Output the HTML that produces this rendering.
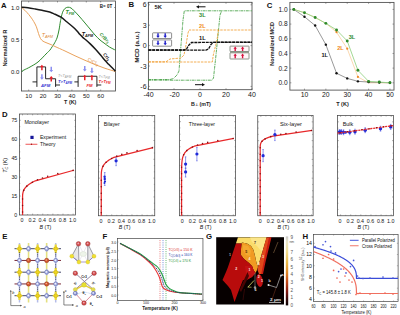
<!DOCTYPE html>
<html><head><meta charset="utf-8"><style>
html,body{margin:0;padding:0;background:#fff;}
svg{display:block;font-family:"Liberation Sans",sans-serif;}
</style></head><body>
<svg width="400" height="315" viewBox="0 0 400 315">
<rect width="400" height="315" fill="#fff"/>
<rect x="21.5" y="1" width="94" height="90" stroke="#4a4a4a" stroke-width="0.85" fill="none" />
<line x1="28.7" y1="91" x2="28.7" y2="89.5" stroke="#4a4a4a" stroke-width="0.5" />
<line x1="28.7" y1="1" x2="28.7" y2="2.5" stroke="#4a4a4a" stroke-width="0.5" />
<text x="28.7" y="98" font-size="6.0" text-anchor="middle" fill="#161616" >10</text>
<line x1="43.1" y1="91" x2="43.1" y2="89.5" stroke="#4a4a4a" stroke-width="0.5" />
<line x1="43.1" y1="1" x2="43.1" y2="2.5" stroke="#4a4a4a" stroke-width="0.5" />
<text x="43.1" y="98" font-size="6.0" text-anchor="middle" fill="#161616" >20</text>
<line x1="57.5" y1="91" x2="57.5" y2="89.5" stroke="#4a4a4a" stroke-width="0.5" />
<line x1="57.5" y1="1" x2="57.5" y2="2.5" stroke="#4a4a4a" stroke-width="0.5" />
<text x="57.5" y="98" font-size="6.0" text-anchor="middle" fill="#161616" >30</text>
<line x1="71.9" y1="91" x2="71.9" y2="89.5" stroke="#4a4a4a" stroke-width="0.5" />
<line x1="71.9" y1="1" x2="71.9" y2="2.5" stroke="#4a4a4a" stroke-width="0.5" />
<text x="71.9" y="98" font-size="6.0" text-anchor="middle" fill="#161616" >40</text>
<line x1="86.3" y1="91" x2="86.3" y2="89.5" stroke="#4a4a4a" stroke-width="0.5" />
<line x1="86.3" y1="1" x2="86.3" y2="2.5" stroke="#4a4a4a" stroke-width="0.5" />
<text x="86.3" y="98" font-size="6.0" text-anchor="middle" fill="#161616" >50</text>
<line x1="100.7" y1="91" x2="100.7" y2="89.5" stroke="#4a4a4a" stroke-width="0.5" />
<line x1="100.7" y1="1" x2="100.7" y2="2.5" stroke="#4a4a4a" stroke-width="0.5" />
<text x="100.7" y="98" font-size="6.0" text-anchor="middle" fill="#161616" >60</text>
<line x1="21.5" y1="7.5" x2="23" y2="7.5" stroke="#4a4a4a" stroke-width="0.5" />
<line x1="115.5" y1="7.5" x2="114" y2="7.5" stroke="#4a4a4a" stroke-width="0.5" />
<text x="19.3" y="9.6" font-size="6.0" text-anchor="end" fill="#161616" >1.0</text>
<line x1="21.5" y1="39.5" x2="23" y2="39.5" stroke="#4a4a4a" stroke-width="0.5" />
<line x1="115.5" y1="39.5" x2="114" y2="39.5" stroke="#4a4a4a" stroke-width="0.5" />
<text x="19.3" y="41.6" font-size="6.0" text-anchor="end" fill="#161616" >0.5</text>
<line x1="21.5" y1="71.5" x2="23" y2="71.5" stroke="#4a4a4a" stroke-width="0.5" />
<line x1="115.5" y1="71.5" x2="114" y2="71.5" stroke="#4a4a4a" stroke-width="0.5" />
<text x="19.3" y="73.6" font-size="6.0" text-anchor="end" fill="#161616" >0.0</text>
<text x="70.25" y="104.1" font-size="5.8" text-anchor="middle" font-weight="bold" fill="#222" textLength="12.3" lengthAdjust="spacingAndGlyphs" >T (K)</text>
<text x="7.4" y="48.1" font-size="5.4" text-anchor="middle" font-weight="bold" fill="#222" textLength="37" lengthAdjust="spacingAndGlyphs" transform="rotate(-90 7.4 48.1)">Normalized R</text>
<text x="1.1" y="8" font-size="7.8" font-weight="bold" fill="#111" >A</text>
<path d="M21.5,71.5 C21.92,71.25 22.58,70.75 24,70 C25.42,69.25 27.67,68.33 30,67 C32.33,65.67 35.33,64.17 38,62 C40.67,59.83 44,56 46,54 C48,52 49,51.17 50,50 C51,48.83 51.33,48 52,47 C52.67,46 53.17,45.5 54,44 C54.83,42.5 56.17,40.33 57,38 C57.83,35.67 58.45,32.67 59,30 C59.55,27.33 59.93,24.08 60.3,22 C60.67,19.92 60.82,19.13 61.2,17.5 C61.58,15.87 62,13.68 62.6,12.2 C63.2,10.72 63.92,9.43 64.8,8.6 C65.68,7.77 66.87,7.3 67.9,7.2 C68.93,7.1 69.98,7.42 71,8 C72.02,8.58 72.67,9.37 74,10.7 C75.33,12.03 77.17,13.95 79,16 C80.83,18.05 83.17,20.83 85,23 C86.83,25.17 88.33,27 90,29 C91.67,31 93.33,33.17 95,35 C96.67,36.83 98.5,38.67 100,40 C101.5,41.33 102.42,41.83 104,43 C105.58,44.17 107.57,45.8 109.5,47 C111.43,48.2 114.58,49.67 115.6,50.2" stroke="#2e8a2e" stroke-width="1.0" fill="none" />
<path d="M21.5,7.3 C21.75,7.52 22.1,7.75 23,8.6 C23.9,9.45 25.62,11 26.9,12.4 C28.18,13.8 29.57,15.48 30.7,17 C31.83,18.52 32.75,19.87 33.7,21.5 C34.65,23.13 35.6,24.8 36.4,26.8 C37.2,28.8 37.82,31.55 38.5,33.5 C39.18,35.45 39.75,37.22 40.5,38.5 C41.25,39.78 41.92,40.45 43,41.2 C44.08,41.95 45.67,42.43 47,43 C48.33,43.57 49.67,44.02 51,44.6 C52.33,45.18 52.67,45.43 55,46.5 C57.33,47.57 61.67,49.45 65,51 C68.33,52.55 71.67,54.25 75,55.8 C78.33,57.35 81.67,58.83 85,60.3 C88.33,61.77 91.67,63.27 95,64.6 C98.33,65.93 101.58,67.15 105,68.3 C108.42,69.45 113.75,70.97 115.5,71.5" stroke="#eaa25c" stroke-width="1.0" fill="none" />
<path d="M21.5,7.2 C22.58,7.3 25.72,7.5 28,7.8 C30.28,8.1 32.87,8.58 35.2,9 C37.53,9.42 39.58,9.8 42,10.3 C44.42,10.8 47.53,11.33 49.7,12 C51.87,12.67 53.12,13.43 55,14.3 C56.88,15.17 59,15.92 61,17.2 C63,18.48 65,20.37 67,22 C69,23.63 71.33,25.5 73,27 C74.67,28.5 75.83,29.73 77,31 C78.17,32.27 79,33.5 80,34.6 C81,35.7 82,36.7 83,37.6 C84,38.5 84.79,38.95 86,40 C87.21,41.05 88.67,42.35 90.25,43.9 C91.83,45.45 93.75,47.4 95.5,49.3 C97.25,51.2 99.15,53.42 100.75,55.3 C102.35,57.18 103.79,59.1 105.1,60.6 C106.41,62.1 106.87,62.53 108.6,64.3 C110.33,66.07 114.35,70.05 115.5,71.2" stroke="#1a1a1a" stroke-width="1.5" fill="none" />
<text x="65.5" y="14.1" font-size="5.4" font-weight="bold" font-style="italic" fill="#2f8f2f" >T<tspan font-size="3.8" dy="1">FM</tspan></text>
<text x="81.7" y="36.4" font-size="5.4" font-weight="bold" font-style="italic" fill="#111" >T<tspan font-size="3.8" dy="1">AFM</tspan></text>
<text x="41.7" y="36.6" font-size="5.4" font-style="italic" fill="#e08838" >T<tspan font-size="3.8" dy="1">AFM</tspan></text>
<text x="99.2" y="34.6" font-size="4.7" font-weight="bold" fill="#2f8f2f" transform="rotate(46 99.2 34.6)">CrBr<tspan font-size="3.4" dy="0.9">3</tspan></text>
<text x="102.8" y="54.4" font-size="4.7" font-weight="bold" fill="#111" transform="rotate(52 102.8 54.4)">CrI<tspan font-size="3.4" dy="0.9">3</tspan></text>
<text x="87.2" y="60.6" font-size="4.7" fill="#e08838" transform="rotate(27 87.2 60.6)">CrCl<tspan font-size="3.4" dy="0.9">3</tspan></text>
<text x="99.8" y="8" font-size="5.4" font-weight="bold" fill="#161616" textLength="12.4" lengthAdjust="spacingAndGlyphs" >B= 0T</text>
<path d="M32.5,81.9 L36.9,81.9" stroke="#111" stroke-width="0.9" fill="none" />
<path d="M36.9,86.9 L36.9,66.9 L45.6,66.9 L45.6,78.75 L55.6,78.75 L55.6,86.9" stroke="#111" stroke-width="0.9" fill="none" />
<path d="M55.6,85 L60,85" stroke="#111" stroke-width="0.9" fill="none" />
<path d="M41.9,64.75 l-1.9,2.2 h1.15 v3.3 h1.5 v-3.3 h1.15 z" fill="#e8202a"/>
<path d="M51.25,76 l-1.9,2.2 h1.15 v3.3 h1.5 v-3.3 h1.15 z" fill="#e8202a"/>
<path d="M41.9,79.65 l-1.9,-2.2 h1.15 v-3.3 h1.5 v3.3 h1.15 z" fill="#8a8ef0"/>
<path d="M51.25,72.15 l-1.9,-2.2 h1.15 v-3.3 h1.5 v3.3 h1.15 z" fill="#8a8ef0"/>
<text x="45.6" y="87.4" font-size="4.2" text-anchor="middle" font-weight="bold" font-style="italic" fill="#3030d0" >AFM</text>
<text x="58" y="77" font-size="3.8" font-style="italic" fill="#999" >T&lt;T<tspan font-size="3" dy="0.7">AFM</tspan></text>
<text x="58" y="83" font-size="4.2" font-weight="bold" font-style="italic" fill="#3030d0" >T&gt;T<tspan font-size="3" dy="0.7">AFM</tspan></text>
<path d="M74.4,81.9 L78.1,81.9" stroke="#111" stroke-width="0.9" fill="none" />
<path d="M78.1,86.9 L78.1,76.25 L96.9,76.25 L96.9,86.9" stroke="#111" stroke-width="0.9" fill="none" />
<path d="M96.9,85 L101.25,85" stroke="#111" stroke-width="0.9" fill="none" />
<path d="M84.75,74.75 l-1.9,2.2 h1.15 v3.3 h1.5 v-3.3 h1.15 z" fill="#e8202a"/>
<path d="M91.9,74.75 l-1.9,2.2 h1.15 v3.3 h1.5 v-3.3 h1.15 z" fill="#e8202a"/>
<path d="M84.75,71.5 l-1.9,-2.2 h1.15 v-3.3 h1.5 v3.3 h1.15 z" fill="#8a8ef0"/>
<path d="M91.9,73.35 l-1.9,-2.2 h1.15 v-3.3 h1.5 v3.3 h1.15 z" fill="#8a8ef0"/>
<text x="89.4" y="86.6" font-size="4.2" text-anchor="middle" font-weight="bold" font-style="italic" fill="#e8202a" >FM</text>
<text x="98.5" y="77.8" font-size="3.8" font-style="italic" fill="#999" >T&lt;T<tspan font-size="3" dy="0.7">FM</tspan></text>
<text x="98.5" y="83.4" font-size="4.2" font-weight="bold" font-style="italic" fill="#e8202a" >T&gt;T<tspan font-size="3" dy="0.7">FM</tspan></text>
<rect x="148.4" y="2.3" width="103.6" height="87.4" stroke="#4a4a4a" stroke-width="0.85" fill="none" />
<line x1="148" y1="89.7" x2="148" y2="88.2" stroke="#4a4a4a" stroke-width="0.5" />
<line x1="148" y1="2.3" x2="148" y2="3.8" stroke="#4a4a4a" stroke-width="0.5" />
<text x="148.5" y="97.3" font-size="7.0" text-anchor="middle" fill="#161616" >-40</text>
<line x1="174" y1="89.7" x2="174" y2="88.2" stroke="#4a4a4a" stroke-width="0.5" />
<line x1="174" y1="2.3" x2="174" y2="3.8" stroke="#4a4a4a" stroke-width="0.5" />
<text x="174.5" y="97.3" font-size="7.0" text-anchor="middle" fill="#161616" >-20</text>
<line x1="200" y1="89.7" x2="200" y2="88.2" stroke="#4a4a4a" stroke-width="0.5" />
<line x1="200" y1="2.3" x2="200" y2="3.8" stroke="#4a4a4a" stroke-width="0.5" />
<text x="200" y="97.3" font-size="7.0" text-anchor="middle" fill="#161616" >0</text>
<line x1="226" y1="89.7" x2="226" y2="88.2" stroke="#4a4a4a" stroke-width="0.5" />
<line x1="226" y1="2.3" x2="226" y2="3.8" stroke="#4a4a4a" stroke-width="0.5" />
<text x="226" y="97.3" font-size="7.0" text-anchor="middle" fill="#161616" >20</text>
<line x1="252" y1="89.7" x2="252" y2="88.2" stroke="#4a4a4a" stroke-width="0.5" />
<line x1="252" y1="2.3" x2="252" y2="3.8" stroke="#4a4a4a" stroke-width="0.5" />
<text x="252" y="97.3" font-size="7.0" text-anchor="middle" fill="#161616" >40</text>
<line x1="148.4" y1="4.8" x2="149.9" y2="4.8" stroke="#4a4a4a" stroke-width="0.5" />
<line x1="252" y1="4.8" x2="250.5" y2="4.8" stroke="#4a4a4a" stroke-width="0.5" />
<text x="146.6" y="7.3" font-size="7.0" text-anchor="end" fill="#161616" >6</text>
<line x1="148.4" y1="25.2" x2="149.9" y2="25.2" stroke="#4a4a4a" stroke-width="0.5" />
<line x1="252" y1="25.2" x2="250.5" y2="25.2" stroke="#4a4a4a" stroke-width="0.5" />
<text x="146.6" y="27.7" font-size="7.0" text-anchor="end" fill="#161616" >3</text>
<line x1="148.4" y1="45.6" x2="149.9" y2="45.6" stroke="#4a4a4a" stroke-width="0.5" />
<line x1="252" y1="45.6" x2="250.5" y2="45.6" stroke="#4a4a4a" stroke-width="0.5" />
<text x="146.6" y="48.1" font-size="7.0" text-anchor="end" fill="#161616" >0</text>
<line x1="148.4" y1="66" x2="149.9" y2="66" stroke="#4a4a4a" stroke-width="0.5" />
<line x1="252" y1="66" x2="250.5" y2="66" stroke="#4a4a4a" stroke-width="0.5" />
<text x="146.6" y="68.5" font-size="7.0" text-anchor="end" fill="#161616" >-3</text>
<line x1="148.4" y1="86.4" x2="149.9" y2="86.4" stroke="#4a4a4a" stroke-width="0.5" />
<line x1="252" y1="86.4" x2="250.5" y2="86.4" stroke="#4a4a4a" stroke-width="0.5" />
<text x="146.6" y="88.9" font-size="7.0" text-anchor="end" fill="#161616" >-6</text>
<text x="201" y="105.5" font-size="5.3" text-anchor="middle" font-weight="bold" fill="#222" >B<tspan font-size="3.5" dy="0.8">&#8869;</tspan><tspan dy="-0.8"> (mT)</tspan></text>
<text x="138.8" y="47.1" font-size="5.6" text-anchor="middle" font-weight="bold" fill="#222" textLength="31.5" lengthAdjust="spacingAndGlyphs" transform="rotate(-90 138.8 47.1)">MCD (a.u.)</text>
<text x="128.6" y="6.9" font-size="7.8" font-weight="bold" fill="#111" >B</text>
<text x="154.5" y="9.4" font-size="5.8" font-weight="bold" fill="#222" >5K</text>
<path d="M148.4,79.5 L170,79.5 L173.5,78.5 L177,75 L179,71 L181,45 L183,20 L184.3,10.8 L252,10.8" stroke="#3a9a3a" stroke-width="0.8" fill="none" stroke-dasharray="3,0.7,1,0.7"/>
<path d="M148.4,80.2 L212,80.2 L213.5,78 L216,55 L218.5,30 L220,15 L221.7,10.8" stroke="#3a9a3a" stroke-width="0.8" fill="none" stroke-dasharray="3,0.7,1,0.7"/>
<path d="M148.4,61.8 L166,61.8 L170,59 L181,58 L184,55 L186,45 L188,33 L189,30 L252,30" stroke="#f09a2a" stroke-width="0.8" fill="none" stroke-dasharray="2.5,1"/>
<path d="M148.4,62 L212.3,62 L213.3,55 L215,48 L217,40 L218.3,31 L219,30" stroke="#f09a2a" stroke-width="0.8" fill="none" stroke-dasharray="2.5,1"/>
<path d="M148.4,50 L184,50 L186.5,49 L189,45 L191.5,42.5 L252,42.3" stroke="#111" stroke-width="1.3" fill="none" stroke-dasharray="3,0.8"/>
<path d="M148.4,50.2 L206,50.2 L208.5,49 L211,44.5 L213.5,42.3 L252,42.1" stroke="#111" stroke-width="1.3" fill="none" stroke-dasharray="3,0.8"/>
<text x="202.3" y="17.2" font-size="5.6" text-anchor="middle" font-weight="bold" fill="#2f8a2f" >3L</text>
<text x="202.3" y="27.7" font-size="5.6" text-anchor="middle" font-weight="bold" fill="#f08a20" >2L</text>
<text x="202.3" y="39.6" font-size="5.6" text-anchor="middle" font-weight="bold" fill="#111" >1L</text>
<path d="M198.5,6.8 L205.5,6.8" stroke="#111" stroke-width="1" fill="none" />
<path d="M196,6.8 l3,-1.6 v3.2 z" fill="#111"/>
<path d="M195,84.7 L202.5,84.7" stroke="#111" stroke-width="1" fill="none" />
<path d="M205,84.7 l-3,-1.6 v3.2 z" fill="#111"/>
<rect x="152.6" y="32.8" width="19" height="5.7" rx="0.6" fill="#fcfcff" stroke="#6a6a6a" stroke-width="0.75"/>
<path d="M158,37.95 l-1.7,-2.2 h1 v-2.4 h1.4 v2.4 h1 z" fill="#1c1cc8"/>
<path d="M165.2,37.95 l-1.7,-2.2 h1 v-2.4 h1.4 v2.4 h1 z" fill="#1c1cc8"/>
<rect x="152.6" y="39.9" width="19" height="6.3" rx="0.6" fill="#fcfcff" stroke="#6a6a6a" stroke-width="0.75"/>
<path d="M158,45.35 l-1.7,-2.2 h1 v-2.4 h1.4 v2.4 h1 z" fill="#1c1cc8"/>
<path d="M165.2,45.35 l-1.7,-2.2 h1 v-2.4 h1.4 v2.4 h1 z" fill="#1c1cc8"/>
<rect x="230" y="51.3" width="19" height="1.6" fill="#a8b8a0"/>
<rect x="230" y="46.1" width="19" height="5.4" rx="0.4" fill="#fff6f8" stroke="#6a7468" stroke-width="0.75"/>
<path d="M235.2,46.5 l-1.7,2.2 h1 v2.4 h1.4 v-2.4 h1 z" fill="#d8103c"/>
<path d="M242.6,46.5 l-1.7,2.2 h1 v2.4 h1.4 v-2.4 h1 z" fill="#d8103c"/>
<rect x="230" y="52.8" width="19" height="6.2" rx="0.4" fill="#fff6f8" stroke="#6a7468" stroke-width="0.75"/>
<path d="M235.2,53.6 l-1.7,2.2 h1 v2.4 h1.4 v-2.4 h1 z" fill="#d8103c"/>
<path d="M242.6,53.6 l-1.7,2.2 h1 v2.4 h1.4 v-2.4 h1 z" fill="#d8103c"/>
<rect x="289.9" y="2.4" width="104.1" height="87.7" stroke="#4a4a4a" stroke-width="0.85" fill="none" />
<line x1="304.48" y1="90.1" x2="304.48" y2="88.6" stroke="#4a4a4a" stroke-width="0.5" />
<line x1="304.48" y1="2.4" x2="304.48" y2="3.9" stroke="#4a4a4a" stroke-width="0.5" />
<text x="304.48" y="97.3" font-size="6.8" text-anchor="middle" fill="#161616" >10</text>
<line x1="325.85" y1="90.1" x2="325.85" y2="88.6" stroke="#4a4a4a" stroke-width="0.5" />
<line x1="325.85" y1="2.4" x2="325.85" y2="3.9" stroke="#4a4a4a" stroke-width="0.5" />
<text x="325.85" y="97.3" font-size="6.8" text-anchor="middle" fill="#161616" >20</text>
<line x1="347.23" y1="90.1" x2="347.23" y2="88.6" stroke="#4a4a4a" stroke-width="0.5" />
<line x1="347.23" y1="2.4" x2="347.23" y2="3.9" stroke="#4a4a4a" stroke-width="0.5" />
<text x="347.23" y="97.3" font-size="6.8" text-anchor="middle" fill="#161616" >30</text>
<line x1="368.6" y1="90.1" x2="368.6" y2="88.6" stroke="#4a4a4a" stroke-width="0.5" />
<line x1="368.6" y1="2.4" x2="368.6" y2="3.9" stroke="#4a4a4a" stroke-width="0.5" />
<text x="368.6" y="97.3" font-size="6.8" text-anchor="middle" fill="#161616" >40</text>
<line x1="389.98" y1="90.1" x2="389.98" y2="88.6" stroke="#4a4a4a" stroke-width="0.5" />
<line x1="389.98" y1="2.4" x2="389.98" y2="3.9" stroke="#4a4a4a" stroke-width="0.5" />
<text x="389.98" y="97.3" font-size="6.8" text-anchor="middle" fill="#161616" >50</text>
<line x1="289.9" y1="82.8" x2="291.4" y2="82.8" stroke="#4a4a4a" stroke-width="0.5" />
<line x1="394" y1="82.8" x2="392.5" y2="82.8" stroke="#4a4a4a" stroke-width="0.5" />
<text x="287.6" y="85.2" font-size="6.6" text-anchor="end" fill="#161616" >0.0</text>
<line x1="289.9" y1="68.12" x2="291.4" y2="68.12" stroke="#4a4a4a" stroke-width="0.5" />
<line x1="394" y1="68.12" x2="392.5" y2="68.12" stroke="#4a4a4a" stroke-width="0.5" />
<text x="287.6" y="70.52" font-size="6.6" text-anchor="end" fill="#161616" >0.2</text>
<line x1="289.9" y1="53.44" x2="291.4" y2="53.44" stroke="#4a4a4a" stroke-width="0.5" />
<line x1="394" y1="53.44" x2="392.5" y2="53.44" stroke="#4a4a4a" stroke-width="0.5" />
<text x="287.6" y="55.84" font-size="6.6" text-anchor="end" fill="#161616" >0.4</text>
<line x1="289.9" y1="38.76" x2="291.4" y2="38.76" stroke="#4a4a4a" stroke-width="0.5" />
<line x1="394" y1="38.76" x2="392.5" y2="38.76" stroke="#4a4a4a" stroke-width="0.5" />
<text x="287.6" y="41.16" font-size="6.6" text-anchor="end" fill="#161616" >0.6</text>
<line x1="289.9" y1="24.08" x2="291.4" y2="24.08" stroke="#4a4a4a" stroke-width="0.5" />
<line x1="394" y1="24.08" x2="392.5" y2="24.08" stroke="#4a4a4a" stroke-width="0.5" />
<text x="287.6" y="26.48" font-size="6.6" text-anchor="end" fill="#161616" >0.8</text>
<line x1="289.9" y1="9.4" x2="291.4" y2="9.4" stroke="#4a4a4a" stroke-width="0.5" />
<line x1="394" y1="9.4" x2="392.5" y2="9.4" stroke="#4a4a4a" stroke-width="0.5" />
<text x="287.6" y="11.8" font-size="6.6" text-anchor="end" fill="#161616" >1.0</text>
<text x="342.5" y="106" font-size="5.6" text-anchor="middle" font-weight="bold" fill="#222" textLength="12.5" lengthAdjust="spacingAndGlyphs" >T (K)</text>
<text x="273.7" y="43.8" font-size="5.4" text-anchor="middle" font-weight="bold" fill="#222" textLength="43.8" lengthAdjust="spacingAndGlyphs" transform="rotate(-90 273.7 43.8)">Normalized MCD</text>
<text x="266.7" y="7.8" font-size="7.8" font-weight="bold" fill="#111" >C</text>
<path d="M293.79,9.4 L304.48,12.7 L315.16,17.47 L325.85,23.35 L336.54,32.15 L347.23,48.67 L357.91,76.93 L368.6,82.8 L379.29,82.8 L389.98,82.8" stroke="#f4b060" stroke-width="0.5" fill="none" />
<path d="M293.79,9.4 L304.48,16.74 L315.16,25.55 L325.85,44.63 L336.54,73.26 L347.23,78.4 L357.91,81.33 L368.6,82.07 L379.29,82.43 L389.98,82.8" stroke="#333" stroke-width="0.5" fill="none" />
<path d="M293.79,9.4 L304.48,12.7 L315.16,17.47 L325.85,23.35 L336.54,29.95 L347.23,40.96 L357.91,70.32 L368.6,81.33 L379.29,82.07 L389.98,82.8" stroke="#98d488" stroke-width="0.9" fill="none" />
<circle cx="336.54" cy="32.15" r="1.1" fill="#f08a28" stroke="none" stroke-width="0.3" />
<circle cx="347.23" cy="48.67" r="1.1" fill="#f08a28" stroke="none" stroke-width="0.3" />
<circle cx="357.91" cy="76.93" r="1.1" fill="#f08a28" stroke="none" stroke-width="0.3" />
<circle cx="293.79" cy="9.4" r="1.2" fill="#111" stroke="none" stroke-width="0.3" />
<circle cx="304.48" cy="16.74" r="1.2" fill="#111" stroke="none" stroke-width="0.3" />
<circle cx="315.16" cy="25.55" r="1.2" fill="#111" stroke="none" stroke-width="0.3" />
<circle cx="325.85" cy="44.63" r="1.2" fill="#111" stroke="none" stroke-width="0.3" />
<circle cx="336.54" cy="73.26" r="1.2" fill="#111" stroke="none" stroke-width="0.3" />
<circle cx="347.23" cy="78.4" r="1.2" fill="#111" stroke="none" stroke-width="0.3" />
<circle cx="357.91" cy="81.33" r="1.2" fill="#111" stroke="none" stroke-width="0.3" />
<circle cx="368.6" cy="82.07" r="1.2" fill="#111" stroke="none" stroke-width="0.3" />
<circle cx="379.29" cy="82.43" r="1.2" fill="#111" stroke="none" stroke-width="0.3" />
<circle cx="389.98" cy="82.8" r="1.2" fill="#111" stroke="none" stroke-width="0.3" />
<circle cx="293.79" cy="9.4" r="1.45" fill="#2f8a2a" stroke="none" stroke-width="0.3" />
<circle cx="304.48" cy="12.7" r="1.45" fill="#2f8a2a" stroke="none" stroke-width="0.3" />
<circle cx="315.16" cy="17.47" r="1.45" fill="#2f8a2a" stroke="none" stroke-width="0.3" />
<circle cx="325.85" cy="23.35" r="1.45" fill="#2f8a2a" stroke="none" stroke-width="0.3" />
<circle cx="336.54" cy="29.95" r="1.45" fill="#2f8a2a" stroke="none" stroke-width="0.3" />
<circle cx="347.23" cy="40.96" r="1.45" fill="#2f8a2a" stroke="none" stroke-width="0.3" />
<circle cx="357.91" cy="70.32" r="1.45" fill="#2f8a2a" stroke="none" stroke-width="0.3" />
<circle cx="368.6" cy="81.33" r="1.45" fill="#2f8a2a" stroke="none" stroke-width="0.3" />
<circle cx="379.29" cy="82.07" r="1.45" fill="#2f8a2a" stroke="none" stroke-width="0.3" />
<circle cx="389.98" cy="82.8" r="1.45" fill="#2f8a2a" stroke="none" stroke-width="0.3" />
<text x="351.9" y="38.5" font-size="5.6" text-anchor="middle" font-weight="bold" fill="#2f8a2f" >3L</text>
<text x="340.5" y="50" font-size="5.6" text-anchor="middle" font-weight="bold" fill="#f08a20" >2L</text>
<text x="324.7" y="56.9" font-size="5.6" text-anchor="middle" font-weight="bold" fill="#111" >1L</text>
<rect x="19.4" y="114" width="56.2" height="101" stroke="#444" stroke-width="0.75" fill="none" />
<line x1="22.5" y1="215" x2="22.5" y2="213.6" stroke="#555" stroke-width="0.45" />
<line x1="22.5" y1="114" x2="22.5" y2="115.4" stroke="#555" stroke-width="0.45" />
<text x="22" y="221.9" font-size="5.3" text-anchor="middle" fill="#161616" >0</text>
<line x1="27.56" y1="215" x2="27.56" y2="214.1" stroke="#555" stroke-width="0.45" />
<line x1="27.56" y1="114" x2="27.56" y2="114.9" stroke="#555" stroke-width="0.45" />
<line x1="32.62" y1="215" x2="32.62" y2="213.6" stroke="#555" stroke-width="0.45" />
<line x1="32.62" y1="114" x2="32.62" y2="115.4" stroke="#555" stroke-width="0.45" />
<text x="32.12" y="221.9" font-size="5.3" text-anchor="middle" fill="#161616" >0.2</text>
<line x1="37.68" y1="215" x2="37.68" y2="214.1" stroke="#555" stroke-width="0.45" />
<line x1="37.68" y1="114" x2="37.68" y2="114.9" stroke="#555" stroke-width="0.45" />
<line x1="42.74" y1="215" x2="42.74" y2="213.6" stroke="#555" stroke-width="0.45" />
<line x1="42.74" y1="114" x2="42.74" y2="115.4" stroke="#555" stroke-width="0.45" />
<text x="42.24" y="221.9" font-size="5.3" text-anchor="middle" fill="#161616" >0.4</text>
<line x1="47.8" y1="215" x2="47.8" y2="214.1" stroke="#555" stroke-width="0.45" />
<line x1="47.8" y1="114" x2="47.8" y2="114.9" stroke="#555" stroke-width="0.45" />
<line x1="52.86" y1="215" x2="52.86" y2="213.6" stroke="#555" stroke-width="0.45" />
<line x1="52.86" y1="114" x2="52.86" y2="115.4" stroke="#555" stroke-width="0.45" />
<text x="52.36" y="221.9" font-size="5.3" text-anchor="middle" fill="#161616" >0.6</text>
<line x1="57.92" y1="215" x2="57.92" y2="214.1" stroke="#555" stroke-width="0.45" />
<line x1="57.92" y1="114" x2="57.92" y2="114.9" stroke="#555" stroke-width="0.45" />
<line x1="62.98" y1="215" x2="62.98" y2="213.6" stroke="#555" stroke-width="0.45" />
<line x1="62.98" y1="114" x2="62.98" y2="115.4" stroke="#555" stroke-width="0.45" />
<text x="62.48" y="221.9" font-size="5.3" text-anchor="middle" fill="#161616" >0.8</text>
<line x1="68.04" y1="215" x2="68.04" y2="214.1" stroke="#555" stroke-width="0.45" />
<line x1="68.04" y1="114" x2="68.04" y2="114.9" stroke="#555" stroke-width="0.45" />
<line x1="73.1" y1="215" x2="73.1" y2="213.6" stroke="#555" stroke-width="0.45" />
<line x1="73.1" y1="114" x2="73.1" y2="115.4" stroke="#555" stroke-width="0.45" />
<text x="72.6" y="221.9" font-size="5.3" text-anchor="middle" fill="#161616" >1.0</text>
<line x1="19.4" y1="208.69" x2="20.3" y2="208.69" stroke="#555" stroke-width="0.45" />
<line x1="75.6" y1="208.69" x2="74.7" y2="208.69" stroke="#555" stroke-width="0.45" />
<line x1="19.4" y1="202.38" x2="20.3" y2="202.38" stroke="#555" stroke-width="0.45" />
<line x1="75.6" y1="202.38" x2="74.7" y2="202.38" stroke="#555" stroke-width="0.45" />
<line x1="19.4" y1="196.06" x2="20.8" y2="196.06" stroke="#555" stroke-width="0.45" />
<line x1="75.6" y1="196.06" x2="74.2" y2="196.06" stroke="#555" stroke-width="0.45" />
<line x1="19.4" y1="189.75" x2="20.3" y2="189.75" stroke="#555" stroke-width="0.45" />
<line x1="75.6" y1="189.75" x2="74.7" y2="189.75" stroke="#555" stroke-width="0.45" />
<line x1="19.4" y1="183.44" x2="20.3" y2="183.44" stroke="#555" stroke-width="0.45" />
<line x1="75.6" y1="183.44" x2="74.7" y2="183.44" stroke="#555" stroke-width="0.45" />
<line x1="19.4" y1="177.12" x2="20.8" y2="177.12" stroke="#555" stroke-width="0.45" />
<line x1="75.6" y1="177.12" x2="74.2" y2="177.12" stroke="#555" stroke-width="0.45" />
<line x1="19.4" y1="170.81" x2="20.3" y2="170.81" stroke="#555" stroke-width="0.45" />
<line x1="75.6" y1="170.81" x2="74.7" y2="170.81" stroke="#555" stroke-width="0.45" />
<line x1="19.4" y1="164.5" x2="20.3" y2="164.5" stroke="#555" stroke-width="0.45" />
<line x1="75.6" y1="164.5" x2="74.7" y2="164.5" stroke="#555" stroke-width="0.45" />
<line x1="19.4" y1="158.19" x2="20.8" y2="158.19" stroke="#555" stroke-width="0.45" />
<line x1="75.6" y1="158.19" x2="74.2" y2="158.19" stroke="#555" stroke-width="0.45" />
<line x1="19.4" y1="151.88" x2="20.3" y2="151.88" stroke="#555" stroke-width="0.45" />
<line x1="75.6" y1="151.88" x2="74.7" y2="151.88" stroke="#555" stroke-width="0.45" />
<line x1="19.4" y1="145.56" x2="20.3" y2="145.56" stroke="#555" stroke-width="0.45" />
<line x1="75.6" y1="145.56" x2="74.7" y2="145.56" stroke="#555" stroke-width="0.45" />
<line x1="19.4" y1="139.25" x2="20.8" y2="139.25" stroke="#555" stroke-width="0.45" />
<line x1="75.6" y1="139.25" x2="74.2" y2="139.25" stroke="#555" stroke-width="0.45" />
<line x1="19.4" y1="132.94" x2="20.3" y2="132.94" stroke="#555" stroke-width="0.45" />
<line x1="75.6" y1="132.94" x2="74.7" y2="132.94" stroke="#555" stroke-width="0.45" />
<line x1="19.4" y1="126.62" x2="20.3" y2="126.62" stroke="#555" stroke-width="0.45" />
<line x1="75.6" y1="126.62" x2="74.7" y2="126.62" stroke="#555" stroke-width="0.45" />
<line x1="19.4" y1="120.31" x2="20.8" y2="120.31" stroke="#555" stroke-width="0.45" />
<line x1="75.6" y1="120.31" x2="74.2" y2="120.31" stroke="#555" stroke-width="0.45" />
<text x="45.5" y="228.6" font-size="5.3" text-anchor="middle" fill="#161616" ><tspan font-style="italic">B</tspan> (T)</text>
<rect x="98.5" y="115.4" width="56.25" height="100.35" stroke="#444" stroke-width="0.75" fill="none" />
<line x1="101.6" y1="215.75" x2="101.6" y2="214.35" stroke="#555" stroke-width="0.45" />
<line x1="101.6" y1="115.4" x2="101.6" y2="116.8" stroke="#555" stroke-width="0.45" />
<text x="101.1" y="222.65" font-size="5.3" text-anchor="middle" fill="#161616" >0</text>
<line x1="106.66" y1="215.75" x2="106.66" y2="214.85" stroke="#555" stroke-width="0.45" />
<line x1="106.66" y1="115.4" x2="106.66" y2="116.3" stroke="#555" stroke-width="0.45" />
<line x1="111.72" y1="215.75" x2="111.72" y2="214.35" stroke="#555" stroke-width="0.45" />
<line x1="111.72" y1="115.4" x2="111.72" y2="116.8" stroke="#555" stroke-width="0.45" />
<text x="111.22" y="222.65" font-size="5.3" text-anchor="middle" fill="#161616" >0.2</text>
<line x1="116.78" y1="215.75" x2="116.78" y2="214.85" stroke="#555" stroke-width="0.45" />
<line x1="116.78" y1="115.4" x2="116.78" y2="116.3" stroke="#555" stroke-width="0.45" />
<line x1="121.84" y1="215.75" x2="121.84" y2="214.35" stroke="#555" stroke-width="0.45" />
<line x1="121.84" y1="115.4" x2="121.84" y2="116.8" stroke="#555" stroke-width="0.45" />
<text x="121.34" y="222.65" font-size="5.3" text-anchor="middle" fill="#161616" >0.4</text>
<line x1="126.9" y1="215.75" x2="126.9" y2="214.85" stroke="#555" stroke-width="0.45" />
<line x1="126.9" y1="115.4" x2="126.9" y2="116.3" stroke="#555" stroke-width="0.45" />
<line x1="131.96" y1="215.75" x2="131.96" y2="214.35" stroke="#555" stroke-width="0.45" />
<line x1="131.96" y1="115.4" x2="131.96" y2="116.8" stroke="#555" stroke-width="0.45" />
<text x="131.46" y="222.65" font-size="5.3" text-anchor="middle" fill="#161616" >0.6</text>
<line x1="137.02" y1="215.75" x2="137.02" y2="214.85" stroke="#555" stroke-width="0.45" />
<line x1="137.02" y1="115.4" x2="137.02" y2="116.3" stroke="#555" stroke-width="0.45" />
<line x1="142.08" y1="215.75" x2="142.08" y2="214.35" stroke="#555" stroke-width="0.45" />
<line x1="142.08" y1="115.4" x2="142.08" y2="116.8" stroke="#555" stroke-width="0.45" />
<text x="141.58" y="222.65" font-size="5.3" text-anchor="middle" fill="#161616" >0.8</text>
<line x1="147.14" y1="215.75" x2="147.14" y2="214.85" stroke="#555" stroke-width="0.45" />
<line x1="147.14" y1="115.4" x2="147.14" y2="116.3" stroke="#555" stroke-width="0.45" />
<line x1="152.2" y1="215.75" x2="152.2" y2="214.35" stroke="#555" stroke-width="0.45" />
<line x1="152.2" y1="115.4" x2="152.2" y2="116.8" stroke="#555" stroke-width="0.45" />
<text x="151.7" y="222.65" font-size="5.3" text-anchor="middle" fill="#161616" >1.0</text>
<line x1="98.5" y1="209.48" x2="99.4" y2="209.48" stroke="#555" stroke-width="0.45" />
<line x1="154.75" y1="209.48" x2="153.85" y2="209.48" stroke="#555" stroke-width="0.45" />
<line x1="98.5" y1="203.21" x2="99.4" y2="203.21" stroke="#555" stroke-width="0.45" />
<line x1="154.75" y1="203.21" x2="153.85" y2="203.21" stroke="#555" stroke-width="0.45" />
<line x1="98.5" y1="196.93" x2="99.9" y2="196.93" stroke="#555" stroke-width="0.45" />
<line x1="154.75" y1="196.93" x2="153.35" y2="196.93" stroke="#555" stroke-width="0.45" />
<line x1="98.5" y1="190.66" x2="99.4" y2="190.66" stroke="#555" stroke-width="0.45" />
<line x1="154.75" y1="190.66" x2="153.85" y2="190.66" stroke="#555" stroke-width="0.45" />
<line x1="98.5" y1="184.39" x2="99.4" y2="184.39" stroke="#555" stroke-width="0.45" />
<line x1="154.75" y1="184.39" x2="153.85" y2="184.39" stroke="#555" stroke-width="0.45" />
<line x1="98.5" y1="178.12" x2="99.9" y2="178.12" stroke="#555" stroke-width="0.45" />
<line x1="154.75" y1="178.12" x2="153.35" y2="178.12" stroke="#555" stroke-width="0.45" />
<line x1="98.5" y1="171.85" x2="99.4" y2="171.85" stroke="#555" stroke-width="0.45" />
<line x1="154.75" y1="171.85" x2="153.85" y2="171.85" stroke="#555" stroke-width="0.45" />
<line x1="98.5" y1="165.57" x2="99.4" y2="165.57" stroke="#555" stroke-width="0.45" />
<line x1="154.75" y1="165.57" x2="153.85" y2="165.57" stroke="#555" stroke-width="0.45" />
<line x1="98.5" y1="159.3" x2="99.9" y2="159.3" stroke="#555" stroke-width="0.45" />
<line x1="154.75" y1="159.3" x2="153.35" y2="159.3" stroke="#555" stroke-width="0.45" />
<line x1="98.5" y1="153.03" x2="99.4" y2="153.03" stroke="#555" stroke-width="0.45" />
<line x1="154.75" y1="153.03" x2="153.85" y2="153.03" stroke="#555" stroke-width="0.45" />
<line x1="98.5" y1="146.76" x2="99.4" y2="146.76" stroke="#555" stroke-width="0.45" />
<line x1="154.75" y1="146.76" x2="153.85" y2="146.76" stroke="#555" stroke-width="0.45" />
<line x1="98.5" y1="140.49" x2="99.9" y2="140.49" stroke="#555" stroke-width="0.45" />
<line x1="154.75" y1="140.49" x2="153.35" y2="140.49" stroke="#555" stroke-width="0.45" />
<line x1="98.5" y1="134.22" x2="99.4" y2="134.22" stroke="#555" stroke-width="0.45" />
<line x1="154.75" y1="134.22" x2="153.85" y2="134.22" stroke="#555" stroke-width="0.45" />
<line x1="98.5" y1="127.94" x2="99.4" y2="127.94" stroke="#555" stroke-width="0.45" />
<line x1="154.75" y1="127.94" x2="153.85" y2="127.94" stroke="#555" stroke-width="0.45" />
<line x1="98.5" y1="121.67" x2="99.9" y2="121.67" stroke="#555" stroke-width="0.45" />
<line x1="154.75" y1="121.67" x2="153.35" y2="121.67" stroke="#555" stroke-width="0.45" />
<text x="124.62" y="229.35" font-size="5.3" text-anchor="middle" fill="#161616" ><tspan font-style="italic">B</tspan> (T)</text>
<rect x="179.6" y="115.4" width="56" height="100.35" stroke="#444" stroke-width="0.75" fill="none" />
<line x1="182.7" y1="215.75" x2="182.7" y2="214.35" stroke="#555" stroke-width="0.45" />
<line x1="182.7" y1="115.4" x2="182.7" y2="116.8" stroke="#555" stroke-width="0.45" />
<text x="182.2" y="222.65" font-size="5.3" text-anchor="middle" fill="#161616" >0</text>
<line x1="187.76" y1="215.75" x2="187.76" y2="214.85" stroke="#555" stroke-width="0.45" />
<line x1="187.76" y1="115.4" x2="187.76" y2="116.3" stroke="#555" stroke-width="0.45" />
<line x1="192.82" y1="215.75" x2="192.82" y2="214.35" stroke="#555" stroke-width="0.45" />
<line x1="192.82" y1="115.4" x2="192.82" y2="116.8" stroke="#555" stroke-width="0.45" />
<text x="192.32" y="222.65" font-size="5.3" text-anchor="middle" fill="#161616" >0.2</text>
<line x1="197.88" y1="215.75" x2="197.88" y2="214.85" stroke="#555" stroke-width="0.45" />
<line x1="197.88" y1="115.4" x2="197.88" y2="116.3" stroke="#555" stroke-width="0.45" />
<line x1="202.94" y1="215.75" x2="202.94" y2="214.35" stroke="#555" stroke-width="0.45" />
<line x1="202.94" y1="115.4" x2="202.94" y2="116.8" stroke="#555" stroke-width="0.45" />
<text x="202.44" y="222.65" font-size="5.3" text-anchor="middle" fill="#161616" >0.4</text>
<line x1="208" y1="215.75" x2="208" y2="214.85" stroke="#555" stroke-width="0.45" />
<line x1="208" y1="115.4" x2="208" y2="116.3" stroke="#555" stroke-width="0.45" />
<line x1="213.06" y1="215.75" x2="213.06" y2="214.35" stroke="#555" stroke-width="0.45" />
<line x1="213.06" y1="115.4" x2="213.06" y2="116.8" stroke="#555" stroke-width="0.45" />
<text x="212.56" y="222.65" font-size="5.3" text-anchor="middle" fill="#161616" >0.6</text>
<line x1="218.12" y1="215.75" x2="218.12" y2="214.85" stroke="#555" stroke-width="0.45" />
<line x1="218.12" y1="115.4" x2="218.12" y2="116.3" stroke="#555" stroke-width="0.45" />
<line x1="223.18" y1="215.75" x2="223.18" y2="214.35" stroke="#555" stroke-width="0.45" />
<line x1="223.18" y1="115.4" x2="223.18" y2="116.8" stroke="#555" stroke-width="0.45" />
<text x="222.68" y="222.65" font-size="5.3" text-anchor="middle" fill="#161616" >0.8</text>
<line x1="228.24" y1="215.75" x2="228.24" y2="214.85" stroke="#555" stroke-width="0.45" />
<line x1="228.24" y1="115.4" x2="228.24" y2="116.3" stroke="#555" stroke-width="0.45" />
<line x1="233.3" y1="215.75" x2="233.3" y2="214.35" stroke="#555" stroke-width="0.45" />
<line x1="233.3" y1="115.4" x2="233.3" y2="116.8" stroke="#555" stroke-width="0.45" />
<text x="232.8" y="222.65" font-size="5.3" text-anchor="middle" fill="#161616" >1.0</text>
<line x1="179.6" y1="209.48" x2="180.5" y2="209.48" stroke="#555" stroke-width="0.45" />
<line x1="235.6" y1="209.48" x2="234.7" y2="209.48" stroke="#555" stroke-width="0.45" />
<line x1="179.6" y1="203.21" x2="180.5" y2="203.21" stroke="#555" stroke-width="0.45" />
<line x1="235.6" y1="203.21" x2="234.7" y2="203.21" stroke="#555" stroke-width="0.45" />
<line x1="179.6" y1="196.93" x2="181" y2="196.93" stroke="#555" stroke-width="0.45" />
<line x1="235.6" y1="196.93" x2="234.2" y2="196.93" stroke="#555" stroke-width="0.45" />
<line x1="179.6" y1="190.66" x2="180.5" y2="190.66" stroke="#555" stroke-width="0.45" />
<line x1="235.6" y1="190.66" x2="234.7" y2="190.66" stroke="#555" stroke-width="0.45" />
<line x1="179.6" y1="184.39" x2="180.5" y2="184.39" stroke="#555" stroke-width="0.45" />
<line x1="235.6" y1="184.39" x2="234.7" y2="184.39" stroke="#555" stroke-width="0.45" />
<line x1="179.6" y1="178.12" x2="181" y2="178.12" stroke="#555" stroke-width="0.45" />
<line x1="235.6" y1="178.12" x2="234.2" y2="178.12" stroke="#555" stroke-width="0.45" />
<line x1="179.6" y1="171.85" x2="180.5" y2="171.85" stroke="#555" stroke-width="0.45" />
<line x1="235.6" y1="171.85" x2="234.7" y2="171.85" stroke="#555" stroke-width="0.45" />
<line x1="179.6" y1="165.57" x2="180.5" y2="165.57" stroke="#555" stroke-width="0.45" />
<line x1="235.6" y1="165.57" x2="234.7" y2="165.57" stroke="#555" stroke-width="0.45" />
<line x1="179.6" y1="159.3" x2="181" y2="159.3" stroke="#555" stroke-width="0.45" />
<line x1="235.6" y1="159.3" x2="234.2" y2="159.3" stroke="#555" stroke-width="0.45" />
<line x1="179.6" y1="153.03" x2="180.5" y2="153.03" stroke="#555" stroke-width="0.45" />
<line x1="235.6" y1="153.03" x2="234.7" y2="153.03" stroke="#555" stroke-width="0.45" />
<line x1="179.6" y1="146.76" x2="180.5" y2="146.76" stroke="#555" stroke-width="0.45" />
<line x1="235.6" y1="146.76" x2="234.7" y2="146.76" stroke="#555" stroke-width="0.45" />
<line x1="179.6" y1="140.49" x2="181" y2="140.49" stroke="#555" stroke-width="0.45" />
<line x1="235.6" y1="140.49" x2="234.2" y2="140.49" stroke="#555" stroke-width="0.45" />
<line x1="179.6" y1="134.22" x2="180.5" y2="134.22" stroke="#555" stroke-width="0.45" />
<line x1="235.6" y1="134.22" x2="234.7" y2="134.22" stroke="#555" stroke-width="0.45" />
<line x1="179.6" y1="127.94" x2="180.5" y2="127.94" stroke="#555" stroke-width="0.45" />
<line x1="235.6" y1="127.94" x2="234.7" y2="127.94" stroke="#555" stroke-width="0.45" />
<line x1="179.6" y1="121.67" x2="181" y2="121.67" stroke="#555" stroke-width="0.45" />
<line x1="235.6" y1="121.67" x2="234.2" y2="121.67" stroke="#555" stroke-width="0.45" />
<text x="205.6" y="229.35" font-size="5.3" text-anchor="middle" fill="#161616" ><tspan font-style="italic">B</tspan> (T)</text>
<rect x="257.75" y="115.6" width="55.35" height="100.15" stroke="#444" stroke-width="0.75" fill="none" />
<line x1="260.85" y1="215.75" x2="260.85" y2="214.35" stroke="#555" stroke-width="0.45" />
<line x1="260.85" y1="115.6" x2="260.85" y2="117" stroke="#555" stroke-width="0.45" />
<text x="260.35" y="222.65" font-size="5.3" text-anchor="middle" fill="#161616" >0</text>
<line x1="265.91" y1="215.75" x2="265.91" y2="214.85" stroke="#555" stroke-width="0.45" />
<line x1="265.91" y1="115.6" x2="265.91" y2="116.5" stroke="#555" stroke-width="0.45" />
<line x1="270.97" y1="215.75" x2="270.97" y2="214.35" stroke="#555" stroke-width="0.45" />
<line x1="270.97" y1="115.6" x2="270.97" y2="117" stroke="#555" stroke-width="0.45" />
<text x="270.47" y="222.65" font-size="5.3" text-anchor="middle" fill="#161616" >0.2</text>
<line x1="276.03" y1="215.75" x2="276.03" y2="214.85" stroke="#555" stroke-width="0.45" />
<line x1="276.03" y1="115.6" x2="276.03" y2="116.5" stroke="#555" stroke-width="0.45" />
<line x1="281.09" y1="215.75" x2="281.09" y2="214.35" stroke="#555" stroke-width="0.45" />
<line x1="281.09" y1="115.6" x2="281.09" y2="117" stroke="#555" stroke-width="0.45" />
<text x="280.59" y="222.65" font-size="5.3" text-anchor="middle" fill="#161616" >0.4</text>
<line x1="286.15" y1="215.75" x2="286.15" y2="214.85" stroke="#555" stroke-width="0.45" />
<line x1="286.15" y1="115.6" x2="286.15" y2="116.5" stroke="#555" stroke-width="0.45" />
<line x1="291.21" y1="215.75" x2="291.21" y2="214.35" stroke="#555" stroke-width="0.45" />
<line x1="291.21" y1="115.6" x2="291.21" y2="117" stroke="#555" stroke-width="0.45" />
<text x="290.71" y="222.65" font-size="5.3" text-anchor="middle" fill="#161616" >0.6</text>
<line x1="296.27" y1="215.75" x2="296.27" y2="214.85" stroke="#555" stroke-width="0.45" />
<line x1="296.27" y1="115.6" x2="296.27" y2="116.5" stroke="#555" stroke-width="0.45" />
<line x1="301.33" y1="215.75" x2="301.33" y2="214.35" stroke="#555" stroke-width="0.45" />
<line x1="301.33" y1="115.6" x2="301.33" y2="117" stroke="#555" stroke-width="0.45" />
<text x="300.83" y="222.65" font-size="5.3" text-anchor="middle" fill="#161616" >0.8</text>
<line x1="306.39" y1="215.75" x2="306.39" y2="214.85" stroke="#555" stroke-width="0.45" />
<line x1="306.39" y1="115.6" x2="306.39" y2="116.5" stroke="#555" stroke-width="0.45" />
<line x1="311.45" y1="215.75" x2="311.45" y2="214.35" stroke="#555" stroke-width="0.45" />
<line x1="311.45" y1="115.6" x2="311.45" y2="117" stroke="#555" stroke-width="0.45" />
<text x="310.95" y="222.65" font-size="5.3" text-anchor="middle" fill="#161616" >1.0</text>
<line x1="257.75" y1="209.49" x2="258.65" y2="209.49" stroke="#555" stroke-width="0.45" />
<line x1="313.1" y1="209.49" x2="312.2" y2="209.49" stroke="#555" stroke-width="0.45" />
<line x1="257.75" y1="203.23" x2="258.65" y2="203.23" stroke="#555" stroke-width="0.45" />
<line x1="313.1" y1="203.23" x2="312.2" y2="203.23" stroke="#555" stroke-width="0.45" />
<line x1="257.75" y1="196.97" x2="259.15" y2="196.97" stroke="#555" stroke-width="0.45" />
<line x1="313.1" y1="196.97" x2="311.7" y2="196.97" stroke="#555" stroke-width="0.45" />
<line x1="257.75" y1="190.71" x2="258.65" y2="190.71" stroke="#555" stroke-width="0.45" />
<line x1="313.1" y1="190.71" x2="312.2" y2="190.71" stroke="#555" stroke-width="0.45" />
<line x1="257.75" y1="184.45" x2="258.65" y2="184.45" stroke="#555" stroke-width="0.45" />
<line x1="313.1" y1="184.45" x2="312.2" y2="184.45" stroke="#555" stroke-width="0.45" />
<line x1="257.75" y1="178.19" x2="259.15" y2="178.19" stroke="#555" stroke-width="0.45" />
<line x1="313.1" y1="178.19" x2="311.7" y2="178.19" stroke="#555" stroke-width="0.45" />
<line x1="257.75" y1="171.93" x2="258.65" y2="171.93" stroke="#555" stroke-width="0.45" />
<line x1="313.1" y1="171.93" x2="312.2" y2="171.93" stroke="#555" stroke-width="0.45" />
<line x1="257.75" y1="165.68" x2="258.65" y2="165.68" stroke="#555" stroke-width="0.45" />
<line x1="313.1" y1="165.68" x2="312.2" y2="165.68" stroke="#555" stroke-width="0.45" />
<line x1="257.75" y1="159.42" x2="259.15" y2="159.42" stroke="#555" stroke-width="0.45" />
<line x1="313.1" y1="159.42" x2="311.7" y2="159.42" stroke="#555" stroke-width="0.45" />
<line x1="257.75" y1="153.16" x2="258.65" y2="153.16" stroke="#555" stroke-width="0.45" />
<line x1="313.1" y1="153.16" x2="312.2" y2="153.16" stroke="#555" stroke-width="0.45" />
<line x1="257.75" y1="146.9" x2="258.65" y2="146.9" stroke="#555" stroke-width="0.45" />
<line x1="313.1" y1="146.9" x2="312.2" y2="146.9" stroke="#555" stroke-width="0.45" />
<line x1="257.75" y1="140.64" x2="259.15" y2="140.64" stroke="#555" stroke-width="0.45" />
<line x1="313.1" y1="140.64" x2="311.7" y2="140.64" stroke="#555" stroke-width="0.45" />
<line x1="257.75" y1="134.38" x2="258.65" y2="134.38" stroke="#555" stroke-width="0.45" />
<line x1="313.1" y1="134.38" x2="312.2" y2="134.38" stroke="#555" stroke-width="0.45" />
<line x1="257.75" y1="128.12" x2="258.65" y2="128.12" stroke="#555" stroke-width="0.45" />
<line x1="313.1" y1="128.12" x2="312.2" y2="128.12" stroke="#555" stroke-width="0.45" />
<line x1="257.75" y1="121.86" x2="259.15" y2="121.86" stroke="#555" stroke-width="0.45" />
<line x1="313.1" y1="121.86" x2="311.7" y2="121.86" stroke="#555" stroke-width="0.45" />
<text x="283.43" y="229.35" font-size="5.3" text-anchor="middle" fill="#161616" ><tspan font-style="italic">B</tspan> (T)</text>
<rect x="337.5" y="115.6" width="55.9" height="100.15" stroke="#444" stroke-width="0.75" fill="none" />
<line x1="340.6" y1="215.75" x2="340.6" y2="214.35" stroke="#555" stroke-width="0.45" />
<line x1="340.6" y1="115.6" x2="340.6" y2="117" stroke="#555" stroke-width="0.45" />
<text x="340.1" y="222.65" font-size="5.3" text-anchor="middle" fill="#161616" >0</text>
<line x1="345.66" y1="215.75" x2="345.66" y2="214.85" stroke="#555" stroke-width="0.45" />
<line x1="345.66" y1="115.6" x2="345.66" y2="116.5" stroke="#555" stroke-width="0.45" />
<line x1="350.72" y1="215.75" x2="350.72" y2="214.35" stroke="#555" stroke-width="0.45" />
<line x1="350.72" y1="115.6" x2="350.72" y2="117" stroke="#555" stroke-width="0.45" />
<text x="350.22" y="222.65" font-size="5.3" text-anchor="middle" fill="#161616" >0.2</text>
<line x1="355.78" y1="215.75" x2="355.78" y2="214.85" stroke="#555" stroke-width="0.45" />
<line x1="355.78" y1="115.6" x2="355.78" y2="116.5" stroke="#555" stroke-width="0.45" />
<line x1="360.84" y1="215.75" x2="360.84" y2="214.35" stroke="#555" stroke-width="0.45" />
<line x1="360.84" y1="115.6" x2="360.84" y2="117" stroke="#555" stroke-width="0.45" />
<text x="360.34" y="222.65" font-size="5.3" text-anchor="middle" fill="#161616" >0.4</text>
<line x1="365.9" y1="215.75" x2="365.9" y2="214.85" stroke="#555" stroke-width="0.45" />
<line x1="365.9" y1="115.6" x2="365.9" y2="116.5" stroke="#555" stroke-width="0.45" />
<line x1="370.96" y1="215.75" x2="370.96" y2="214.35" stroke="#555" stroke-width="0.45" />
<line x1="370.96" y1="115.6" x2="370.96" y2="117" stroke="#555" stroke-width="0.45" />
<text x="370.46" y="222.65" font-size="5.3" text-anchor="middle" fill="#161616" >0.6</text>
<line x1="376.02" y1="215.75" x2="376.02" y2="214.85" stroke="#555" stroke-width="0.45" />
<line x1="376.02" y1="115.6" x2="376.02" y2="116.5" stroke="#555" stroke-width="0.45" />
<line x1="381.08" y1="215.75" x2="381.08" y2="214.35" stroke="#555" stroke-width="0.45" />
<line x1="381.08" y1="115.6" x2="381.08" y2="117" stroke="#555" stroke-width="0.45" />
<text x="380.58" y="222.65" font-size="5.3" text-anchor="middle" fill="#161616" >0.8</text>
<line x1="386.14" y1="215.75" x2="386.14" y2="214.85" stroke="#555" stroke-width="0.45" />
<line x1="386.14" y1="115.6" x2="386.14" y2="116.5" stroke="#555" stroke-width="0.45" />
<line x1="391.2" y1="215.75" x2="391.2" y2="214.35" stroke="#555" stroke-width="0.45" />
<line x1="391.2" y1="115.6" x2="391.2" y2="117" stroke="#555" stroke-width="0.45" />
<text x="390.7" y="222.65" font-size="5.3" text-anchor="middle" fill="#161616" >1.0</text>
<line x1="337.5" y1="209.49" x2="338.4" y2="209.49" stroke="#555" stroke-width="0.45" />
<line x1="393.4" y1="209.49" x2="392.5" y2="209.49" stroke="#555" stroke-width="0.45" />
<line x1="337.5" y1="203.23" x2="338.4" y2="203.23" stroke="#555" stroke-width="0.45" />
<line x1="393.4" y1="203.23" x2="392.5" y2="203.23" stroke="#555" stroke-width="0.45" />
<line x1="337.5" y1="196.97" x2="338.9" y2="196.97" stroke="#555" stroke-width="0.45" />
<line x1="393.4" y1="196.97" x2="392" y2="196.97" stroke="#555" stroke-width="0.45" />
<line x1="337.5" y1="190.71" x2="338.4" y2="190.71" stroke="#555" stroke-width="0.45" />
<line x1="393.4" y1="190.71" x2="392.5" y2="190.71" stroke="#555" stroke-width="0.45" />
<line x1="337.5" y1="184.45" x2="338.4" y2="184.45" stroke="#555" stroke-width="0.45" />
<line x1="393.4" y1="184.45" x2="392.5" y2="184.45" stroke="#555" stroke-width="0.45" />
<line x1="337.5" y1="178.19" x2="338.9" y2="178.19" stroke="#555" stroke-width="0.45" />
<line x1="393.4" y1="178.19" x2="392" y2="178.19" stroke="#555" stroke-width="0.45" />
<line x1="337.5" y1="171.93" x2="338.4" y2="171.93" stroke="#555" stroke-width="0.45" />
<line x1="393.4" y1="171.93" x2="392.5" y2="171.93" stroke="#555" stroke-width="0.45" />
<line x1="337.5" y1="165.68" x2="338.4" y2="165.68" stroke="#555" stroke-width="0.45" />
<line x1="393.4" y1="165.68" x2="392.5" y2="165.68" stroke="#555" stroke-width="0.45" />
<line x1="337.5" y1="159.42" x2="338.9" y2="159.42" stroke="#555" stroke-width="0.45" />
<line x1="393.4" y1="159.42" x2="392" y2="159.42" stroke="#555" stroke-width="0.45" />
<line x1="337.5" y1="153.16" x2="338.4" y2="153.16" stroke="#555" stroke-width="0.45" />
<line x1="393.4" y1="153.16" x2="392.5" y2="153.16" stroke="#555" stroke-width="0.45" />
<line x1="337.5" y1="146.9" x2="338.4" y2="146.9" stroke="#555" stroke-width="0.45" />
<line x1="393.4" y1="146.9" x2="392.5" y2="146.9" stroke="#555" stroke-width="0.45" />
<line x1="337.5" y1="140.64" x2="338.9" y2="140.64" stroke="#555" stroke-width="0.45" />
<line x1="393.4" y1="140.64" x2="392" y2="140.64" stroke="#555" stroke-width="0.45" />
<line x1="337.5" y1="134.38" x2="338.4" y2="134.38" stroke="#555" stroke-width="0.45" />
<line x1="393.4" y1="134.38" x2="392.5" y2="134.38" stroke="#555" stroke-width="0.45" />
<line x1="337.5" y1="128.12" x2="338.4" y2="128.12" stroke="#555" stroke-width="0.45" />
<line x1="393.4" y1="128.12" x2="392.5" y2="128.12" stroke="#555" stroke-width="0.45" />
<line x1="337.5" y1="121.86" x2="338.9" y2="121.86" stroke="#555" stroke-width="0.45" />
<line x1="393.4" y1="121.86" x2="392" y2="121.86" stroke="#555" stroke-width="0.45" />
<text x="363.45" y="229.35" font-size="5.3" text-anchor="middle" fill="#161616" ><tspan font-style="italic">B</tspan> (T)</text>
<text x="17.3" y="216.9" font-size="5.3" text-anchor="end" fill="#161616" >0</text>
<text x="17.3" y="197.96" font-size="5.3" text-anchor="end" fill="#161616" >15</text>
<text x="17.3" y="179.03" font-size="5.3" text-anchor="end" fill="#161616" >30</text>
<text x="17.3" y="160.09" font-size="5.3" text-anchor="end" fill="#161616" >45</text>
<text x="17.3" y="141.15" font-size="5.3" text-anchor="end" fill="#161616" >60</text>
<text x="17.3" y="122.21" font-size="5.3" text-anchor="end" fill="#161616" >75</text>
<text x="6.6" y="165.2" font-size="5.6" text-anchor="middle" font-style="italic" fill="#111" transform="rotate(-90 6.6 165.2)">T<tspan font-size="3.8" dy="-1.8">*</tspan><tspan font-size="3.8" dy="3.0" dx="-1.8">C</tspan><tspan dy="-1.2" font-style="normal"> (K)</tspan></text>
<text x="2" y="117.2" font-size="7.8" font-weight="bold" fill="#111" >D</text>
<text x="24.4" y="123.7" font-size="5.3" fill="#111" textLength="24.6" lengthAdjust="spacingAndGlyphs" >Monolayer</text>
<text x="103.75" y="125.8" font-size="5.3" fill="#111" textLength="16" lengthAdjust="spacingAndGlyphs" >Bilayer</text>
<text x="188.75" y="125.6" font-size="5.3" fill="#111" textLength="26.2" lengthAdjust="spacingAndGlyphs" >Three-layer</text>
<text x="280" y="125.8" font-size="5.3" fill="#111" textLength="22" lengthAdjust="spacingAndGlyphs" >Six-layer</text>
<text x="342.75" y="125.8" font-size="5.3" fill="#111" textLength="10.5" lengthAdjust="spacingAndGlyphs" >Bulk</text>
<rect x="30.4" y="135.8" width="3.2" height="3.2" fill="#18189a"/>
<text x="39.9" y="139.4" font-size="5.3" fill="#111" textLength="26.2" lengthAdjust="spacingAndGlyphs" >Experiment</text>
<line x1="25.5" y1="144.25" x2="37.4" y2="144.25" stroke="#e8282a" stroke-width="0.8" />
<circle cx="31.5" cy="144.25" r="0.7" fill="#a01010" stroke="none" stroke-width="0.3" />
<text x="39.9" y="146.2" font-size="5.3" fill="#111" textLength="15.6" lengthAdjust="spacingAndGlyphs" >Theory</text>
<path d="M22.58,215 L22.58,197.29 L22.6,195.81 L22.6,195.7 L22.61,195.59 L22.61,195.47 L22.62,195.35 L22.63,195.22 L22.63,195.08 L22.64,194.93 L22.66,194.77 L22.67,194.6 L22.69,194.43 L22.7,194.24 L22.73,194.04 L22.75,193.83 L22.78,193.61 L22.82,193.37 L22.86,193.12 L22.91,192.86 L22.97,192.58 L23.04,192.28 L23.13,191.97 L23.23,191.63 L23.34,191.28 L23.48,190.91 L23.64,190.51 L23.83,190.09 L24.06,189.65 L24.33,189.18 L24.64,188.68 L25.01,188.15 L25.45,187.59 L25.96,186.99 L26.57,186.36 L27.29,185.7 L28.14,184.99 L29.14,184.24 L30.32,183.45 L31.71,182.61 L33.36,181.72 L35.3,180.78 L73.8,170.26" stroke="#e8282a" stroke-width="1.25" fill="none" stroke-linejoin="round"/>
<circle cx="23.7" cy="190.38" r="0.8" fill="#8a0c10" stroke="none" stroke-width="0.3" />
<circle cx="26.8" cy="186.15" r="0.8" fill="#8a0c10" stroke="none" stroke-width="0.3" />
<circle cx="32.4" cy="182.23" r="0.8" fill="#8a0c10" stroke="none" stroke-width="0.3" />
<circle cx="37.5" cy="179.82" r="0.8" fill="#8a0c10" stroke="none" stroke-width="0.3" />
<circle cx="42.5" cy="177.93" r="0.8" fill="#8a0c10" stroke="none" stroke-width="0.3" />
<circle cx="47.65" cy="176.29" r="0.8" fill="#8a0c10" stroke="none" stroke-width="0.3" />
<circle cx="57.8" cy="173.61" r="0.8" fill="#8a0c10" stroke="none" stroke-width="0.3" />
<circle cx="73.1" cy="170.39" r="0.8" fill="#8a0c10" stroke="none" stroke-width="0.3" />
<circle cx="22.58" cy="212" r="0.75" fill="#8a0c10" stroke="none" stroke-width="0.3" />
<circle cx="22.58" cy="205.5" r="0.75" fill="#8a0c10" stroke="none" stroke-width="0.3" />
<circle cx="22.58" cy="199" r="0.75" fill="#8a0c10" stroke="none" stroke-width="0.3" />
<path d="M101.25,215.75 L101.25,178.3 L101.27,175.29 L101.27,175.11 L101.28,174.93 L101.28,174.73 L101.29,174.53 L101.29,174.32 L101.3,174.1 L101.31,173.86 L101.32,173.62 L101.34,173.37 L101.35,173.1 L101.37,172.83 L101.39,172.54 L101.42,172.24 L101.45,171.92 L101.49,171.6 L101.53,171.25 L101.58,170.89 L101.64,170.52 L101.71,170.13 L101.8,169.72 L101.9,169.29 L102.01,168.85 L102.15,168.38 L102.31,167.89 L102.5,167.39 L102.73,166.85 L102.99,166.3 L103.31,165.72 L103.68,165.11 L104.12,164.48 L104.63,163.82 L105.24,163.13 L105.96,162.41 L106.81,161.66 L107.81,160.87 L108.99,160.05 L110.38,159.19 L112.03,158.3 L113.97,157.36 L153.1,147.53" stroke="#e8282a" stroke-width="1.25" fill="none" stroke-linejoin="round"/>
<circle cx="103" cy="166.29" r="0.8" fill="#8a0c10" stroke="none" stroke-width="0.3" />
<circle cx="106.1" cy="162.28" r="0.8" fill="#8a0c10" stroke="none" stroke-width="0.3" />
<circle cx="111.7" cy="158.47" r="0.8" fill="#8a0c10" stroke="none" stroke-width="0.3" />
<circle cx="116.8" cy="156.17" r="0.8" fill="#8a0c10" stroke="none" stroke-width="0.3" />
<circle cx="121.8" cy="154.4" r="0.8" fill="#8a0c10" stroke="none" stroke-width="0.3" />
<circle cx="126.95" cy="152.89" r="0.8" fill="#8a0c10" stroke="none" stroke-width="0.3" />
<circle cx="137.1" cy="150.47" r="0.8" fill="#8a0c10" stroke="none" stroke-width="0.3" />
<circle cx="152.4" cy="147.64" r="0.8" fill="#8a0c10" stroke="none" stroke-width="0.3" />
<circle cx="101.25" cy="212.75" r="0.75" fill="#8a0c10" stroke="none" stroke-width="0.3" />
<circle cx="101.25" cy="206.25" r="0.75" fill="#8a0c10" stroke="none" stroke-width="0.3" />
<circle cx="101.25" cy="199.75" r="0.75" fill="#8a0c10" stroke="none" stroke-width="0.3" />
<circle cx="101.25" cy="193.25" r="0.75" fill="#8a0c10" stroke="none" stroke-width="0.3" />
<circle cx="101.25" cy="186.75" r="0.75" fill="#8a0c10" stroke="none" stroke-width="0.3" />
<circle cx="101.25" cy="180.25" r="0.75" fill="#8a0c10" stroke="none" stroke-width="0.3" />
<path d="M181.57,215.75 L181.57,184.15 L181.59,171.71 L181.59,171.22 L181.59,170.72 L181.6,170.22 L181.61,169.71 L181.61,169.19 L181.62,168.66 L181.63,168.13 L181.64,167.59 L181.66,167.04 L181.67,166.48 L181.69,165.91 L181.71,165.34 L181.74,164.76 L181.77,164.16 L181.81,163.56 L181.85,162.96 L181.9,162.34 L181.96,161.71 L182.03,161.08 L182.11,160.43 L182.21,159.78 L182.33,159.12 L182.47,158.44 L182.63,157.76 L182.82,157.07 L183.05,156.36 L183.31,155.65 L183.63,154.93 L184,154.19 L184.43,153.45 L184.95,152.69 L185.56,151.92 L186.28,151.14 L187.13,150.35 L188.13,149.55 L189.31,148.74 L190.7,147.91 L192.34,147.08 L194.28,146.23 L233.8,138.46" stroke="#e8282a" stroke-width="1.25" fill="none" stroke-linejoin="round"/>
<circle cx="183.7" cy="154.77" r="0.8" fill="#8a0c10" stroke="none" stroke-width="0.3" />
<circle cx="186.8" cy="150.64" r="0.8" fill="#8a0c10" stroke="none" stroke-width="0.3" />
<circle cx="192.4" cy="147.05" r="0.8" fill="#8a0c10" stroke="none" stroke-width="0.3" />
<circle cx="197.5" cy="145.05" r="0.8" fill="#8a0c10" stroke="none" stroke-width="0.3" />
<circle cx="202.5" cy="143.6" r="0.8" fill="#8a0c10" stroke="none" stroke-width="0.3" />
<circle cx="207.65" cy="142.4" r="0.8" fill="#8a0c10" stroke="none" stroke-width="0.3" />
<circle cx="217.8" cy="140.56" r="0.8" fill="#8a0c10" stroke="none" stroke-width="0.3" />
<circle cx="233.1" cy="138.54" r="0.8" fill="#8a0c10" stroke="none" stroke-width="0.3" />
<circle cx="181.57" cy="212.75" r="0.75" fill="#8a0c10" stroke="none" stroke-width="0.3" />
<circle cx="181.57" cy="206.25" r="0.75" fill="#8a0c10" stroke="none" stroke-width="0.3" />
<circle cx="181.57" cy="199.75" r="0.75" fill="#8a0c10" stroke="none" stroke-width="0.3" />
<circle cx="181.57" cy="193.25" r="0.75" fill="#8a0c10" stroke="none" stroke-width="0.3" />
<circle cx="181.57" cy="186.75" r="0.75" fill="#8a0c10" stroke="none" stroke-width="0.3" />
<circle cx="181.57" cy="180.25" r="0.75" fill="#8a0c10" stroke="none" stroke-width="0.3" />
<circle cx="181.57" cy="173.75" r="0.75" fill="#8a0c10" stroke="none" stroke-width="0.3" />
<circle cx="181.57" cy="167.25" r="0.75" fill="#8a0c10" stroke="none" stroke-width="0.3" />
<path d="M260.19,215.75 L260.19,148.98 L260.21,146.93 L260.22,146.81 L260.22,146.69 L260.23,146.56 L260.23,146.43 L260.24,146.3 L260.25,146.15 L260.26,146 L260.27,145.85 L260.28,145.69 L260.3,145.52 L260.32,145.34 L260.34,145.16 L260.37,144.97 L260.4,144.77 L260.43,144.57 L260.48,144.35 L260.53,144.13 L260.59,143.9 L260.66,143.66 L260.74,143.4 L260.84,143.14 L260.96,142.87 L261.09,142.58 L261.26,142.29 L261.45,141.98 L261.67,141.66 L261.94,141.32 L262.25,140.97 L262.62,140.61 L263.06,140.23 L263.58,139.84 L264.19,139.43 L264.91,139 L265.75,138.55 L266.75,138.09 L267.94,137.61 L269.33,137.11 L270.97,136.58 L272.91,136.04 L312.1,130.39" stroke="#e8282a" stroke-width="1.25" fill="none" stroke-linejoin="round"/>
<circle cx="262" cy="141.25" r="0.8" fill="#8a0c10" stroke="none" stroke-width="0.3" />
<circle cx="265.1" cy="138.89" r="0.8" fill="#8a0c10" stroke="none" stroke-width="0.3" />
<circle cx="270.7" cy="136.66" r="0.8" fill="#8a0c10" stroke="none" stroke-width="0.3" />
<circle cx="275.8" cy="135.33" r="0.8" fill="#8a0c10" stroke="none" stroke-width="0.3" />
<circle cx="280.8" cy="134.32" r="0.8" fill="#8a0c10" stroke="none" stroke-width="0.3" />
<circle cx="285.95" cy="133.45" r="0.8" fill="#8a0c10" stroke="none" stroke-width="0.3" />
<circle cx="296.1" cy="132.07" r="0.8" fill="#8a0c10" stroke="none" stroke-width="0.3" />
<circle cx="311.4" cy="130.46" r="0.8" fill="#8a0c10" stroke="none" stroke-width="0.3" />
<circle cx="260.19" cy="212.75" r="0.75" fill="#8a0c10" stroke="none" stroke-width="0.3" />
<circle cx="260.19" cy="206.25" r="0.75" fill="#8a0c10" stroke="none" stroke-width="0.3" />
<circle cx="260.19" cy="199.75" r="0.75" fill="#8a0c10" stroke="none" stroke-width="0.3" />
<circle cx="260.19" cy="193.25" r="0.75" fill="#8a0c10" stroke="none" stroke-width="0.3" />
<circle cx="260.19" cy="186.75" r="0.75" fill="#8a0c10" stroke="none" stroke-width="0.3" />
<circle cx="260.19" cy="180.25" r="0.75" fill="#8a0c10" stroke="none" stroke-width="0.3" />
<circle cx="260.19" cy="173.75" r="0.75" fill="#8a0c10" stroke="none" stroke-width="0.3" />
<circle cx="260.19" cy="167.25" r="0.75" fill="#8a0c10" stroke="none" stroke-width="0.3" />
<circle cx="260.19" cy="160.75" r="0.75" fill="#8a0c10" stroke="none" stroke-width="0.3" />
<circle cx="260.19" cy="154.25" r="0.75" fill="#8a0c10" stroke="none" stroke-width="0.3" />
<circle cx="260.19" cy="147.75" r="0.75" fill="#8a0c10" stroke="none" stroke-width="0.3" />
<line x1="116.1" y1="157.9" x2="116.1" y2="165.7" stroke="#1f2ad8" stroke-width="0.5" />
<line x1="115.3" y1="157.9" x2="116.9" y2="157.9" stroke="#1f2ad8" stroke-width="0.4" />
<line x1="115.3" y1="165.7" x2="116.9" y2="165.7" stroke="#1f2ad8" stroke-width="0.4" />
<circle cx="116.1" cy="160.8" r="1.6" fill="#1f2ad8" stroke="none" stroke-width="0.3" />
<line x1="104.75" y1="172.5" x2="104.75" y2="185.5" stroke="#1f2ad8" stroke-width="0.5" />
<line x1="103.95" y1="172.5" x2="105.55" y2="172.5" stroke="#1f2ad8" stroke-width="0.4" />
<line x1="103.95" y1="185.5" x2="105.55" y2="185.5" stroke="#1f2ad8" stroke-width="0.4" />
<circle cx="104.75" cy="179" r="1.2" fill="#1f2ad8" stroke="none" stroke-width="0.3" />
<circle cx="104.6" cy="176.8" r="1.2" fill="#1f2ad8" stroke="none" stroke-width="0.3" />
<circle cx="105" cy="181.5" r="1.1" fill="#1f2ad8" stroke="none" stroke-width="0.3" />
<circle cx="104.4" cy="183" r="0.9" fill="#1f2ad8" stroke="none" stroke-width="0.3" />
<line x1="196.9" y1="147.5" x2="196.9" y2="160.9" stroke="#1f2ad8" stroke-width="0.5" />
<line x1="196.1" y1="147.5" x2="197.7" y2="147.5" stroke="#1f2ad8" stroke-width="0.4" />
<line x1="196.1" y1="160.9" x2="197.7" y2="160.9" stroke="#1f2ad8" stroke-width="0.4" />
<circle cx="196.9" cy="154" r="1.6" fill="#1f2ad8" stroke="none" stroke-width="0.3" />
<line x1="185.6" y1="156.8" x2="185.6" y2="168.2" stroke="#1f2ad8" stroke-width="0.5" />
<line x1="184.8" y1="156.8" x2="186.4" y2="156.8" stroke="#1f2ad8" stroke-width="0.4" />
<line x1="184.8" y1="168.2" x2="186.4" y2="168.2" stroke="#1f2ad8" stroke-width="0.4" />
<circle cx="185.6" cy="164.1" r="1.6" fill="#1f2ad8" stroke="none" stroke-width="0.3" />
<line x1="185.6" y1="168.2" x2="185.6" y2="177.1" stroke="#1f2ad8" stroke-width="0.5" />
<line x1="184.8" y1="168.2" x2="186.4" y2="168.2" stroke="#1f2ad8" stroke-width="0.4" />
<line x1="184.8" y1="177.1" x2="186.4" y2="177.1" stroke="#1f2ad8" stroke-width="0.4" />
<circle cx="185.6" cy="171.9" r="1.6" fill="#1f2ad8" stroke="none" stroke-width="0.3" />
<line x1="274.9" y1="130" x2="274.9" y2="140.6" stroke="#1f2ad8" stroke-width="0.5" />
<line x1="274.1" y1="130" x2="275.7" y2="130" stroke="#1f2ad8" stroke-width="0.4" />
<line x1="274.1" y1="140.6" x2="275.7" y2="140.6" stroke="#1f2ad8" stroke-width="0.4" />
<circle cx="274.9" cy="134.5" r="1.6" fill="#1f2ad8" stroke="none" stroke-width="0.3" />
<line x1="263.1" y1="149.5" x2="263.1" y2="161.7" stroke="#1f2ad8" stroke-width="0.5" />
<line x1="262.3" y1="149.5" x2="263.9" y2="149.5" stroke="#1f2ad8" stroke-width="0.4" />
<line x1="262.3" y1="161.7" x2="263.9" y2="161.7" stroke="#1f2ad8" stroke-width="0.4" />
<circle cx="263.1" cy="155.7" r="1.6" fill="#1f2ad8" stroke="none" stroke-width="0.3" />
<line x1="339.4" y1="129.5" x2="339.4" y2="134.5" stroke="#1f2ad8" stroke-width="0.5" />
<line x1="338.6" y1="129.5" x2="340.2" y2="129.5" stroke="#1f2ad8" stroke-width="0.4" />
<line x1="338.6" y1="134.5" x2="340.2" y2="134.5" stroke="#1f2ad8" stroke-width="0.4" />
<circle cx="339.4" cy="132" r="1.7" fill="#1f2ad8" stroke="none" stroke-width="0.3" />
<line x1="341.2" y1="129.5" x2="341.2" y2="134.5" stroke="#1f2ad8" stroke-width="0.5" />
<line x1="340.4" y1="129.5" x2="342" y2="129.5" stroke="#1f2ad8" stroke-width="0.4" />
<line x1="340.4" y1="134.5" x2="342" y2="134.5" stroke="#1f2ad8" stroke-width="0.4" />
<circle cx="341.2" cy="132" r="1.7" fill="#1f2ad8" stroke="none" stroke-width="0.3" />
<line x1="343.5" y1="129.8" x2="343.5" y2="134.8" stroke="#1f2ad8" stroke-width="0.5" />
<line x1="342.7" y1="129.8" x2="344.3" y2="129.8" stroke="#1f2ad8" stroke-width="0.4" />
<line x1="342.7" y1="134.8" x2="344.3" y2="134.8" stroke="#1f2ad8" stroke-width="0.4" />
<circle cx="343.5" cy="132.3" r="1.7" fill="#1f2ad8" stroke="none" stroke-width="0.3" />
<line x1="349.75" y1="129.8" x2="349.75" y2="134.8" stroke="#1f2ad8" stroke-width="0.5" />
<line x1="348.95" y1="129.8" x2="350.55" y2="129.8" stroke="#1f2ad8" stroke-width="0.4" />
<line x1="348.95" y1="134.8" x2="350.55" y2="134.8" stroke="#1f2ad8" stroke-width="0.4" />
<circle cx="349.75" cy="132.3" r="1.7" fill="#1f2ad8" stroke="none" stroke-width="0.3" />
<line x1="355" y1="129.2" x2="355" y2="134.2" stroke="#1f2ad8" stroke-width="0.5" />
<line x1="354.2" y1="129.2" x2="355.8" y2="129.2" stroke="#1f2ad8" stroke-width="0.4" />
<line x1="354.2" y1="134.2" x2="355.8" y2="134.2" stroke="#1f2ad8" stroke-width="0.4" />
<circle cx="355" cy="131.7" r="1.7" fill="#1f2ad8" stroke="none" stroke-width="0.3" />
<line x1="365.2" y1="127.7" x2="365.2" y2="132.7" stroke="#1f2ad8" stroke-width="0.5" />
<line x1="364.4" y1="127.7" x2="366" y2="127.7" stroke="#1f2ad8" stroke-width="0.4" />
<line x1="364.4" y1="132.7" x2="366" y2="132.7" stroke="#1f2ad8" stroke-width="0.4" />
<circle cx="365.2" cy="130.2" r="1.7" fill="#1f2ad8" stroke="none" stroke-width="0.3" />
<line x1="380.5" y1="126.2" x2="380.5" y2="131.2" stroke="#1f2ad8" stroke-width="0.5" />
<line x1="379.7" y1="126.2" x2="381.3" y2="126.2" stroke="#1f2ad8" stroke-width="0.4" />
<line x1="379.7" y1="131.2" x2="381.3" y2="131.2" stroke="#1f2ad8" stroke-width="0.4" />
<circle cx="380.5" cy="128.7" r="1.7" fill="#1f2ad8" stroke="none" stroke-width="0.3" />
<line x1="390.7" y1="124.4" x2="390.7" y2="129.4" stroke="#1f2ad8" stroke-width="0.5" />
<line x1="389.9" y1="124.4" x2="391.5" y2="124.4" stroke="#1f2ad8" stroke-width="0.4" />
<line x1="389.9" y1="129.4" x2="391.5" y2="129.4" stroke="#1f2ad8" stroke-width="0.4" />
<circle cx="390.7" cy="126.9" r="1.7" fill="#1f2ad8" stroke="none" stroke-width="0.3" />
<circle cx="340.3" cy="132.1" r="1.6" fill="#1f2ad8" stroke="none" stroke-width="0.3" />
<circle cx="345.5" cy="132.4" r="1.4" fill="#1f2ad8" stroke="none" stroke-width="0.3" />
<line x1="337.5" y1="133.2" x2="393.2" y2="125.6" stroke="#e8282a" stroke-width="1.3" stroke-dasharray="2.2,0.8"/>
<circle cx="340" cy="132.85" r="0.75" fill="#901010" stroke="none" stroke-width="0.3" />
<circle cx="347.29" cy="131.85" r="0.75" fill="#901010" stroke="none" stroke-width="0.3" />
<circle cx="354.57" cy="130.85" r="0.75" fill="#901010" stroke="none" stroke-width="0.3" />
<circle cx="361.86" cy="129.85" r="0.75" fill="#901010" stroke="none" stroke-width="0.3" />
<circle cx="369.14" cy="128.85" r="0.75" fill="#901010" stroke="none" stroke-width="0.3" />
<circle cx="376.43" cy="127.85" r="0.75" fill="#901010" stroke="none" stroke-width="0.3" />
<circle cx="383.71" cy="126.85" r="0.75" fill="#901010" stroke="none" stroke-width="0.3" />
<circle cx="391" cy="125.85" r="0.75" fill="#901010" stroke="none" stroke-width="0.3" />
<text x="2.3" y="238.6" font-size="7.8" font-weight="bold" fill="#111" >E</text>
<line x1="19.5" y1="243" x2="19.5" y2="302.5" stroke="#b4bce8" stroke-width="1.5" />
<line x1="19.5" y1="244.5" x2="19.5" y2="252.9" stroke="#f0dc30" stroke-width="2.2" />
<line x1="19.5" y1="268" x2="19.5" y2="276.4" stroke="#f0dc30" stroke-width="2.2" />
<line x1="19.5" y1="291.5" x2="19.5" y2="299.9" stroke="#f0dc30" stroke-width="2.2" />
<line x1="19.5" y1="252.17" x2="19.5" y2="256.97" stroke="#2a2a2a" stroke-width="0.7" stroke-dasharray="0.9,0.8"/>
<line x1="19.5" y1="263.93" x2="19.5" y2="268.72" stroke="#2a2a2a" stroke-width="0.7" stroke-dasharray="0.9,0.8"/>
<line x1="19.5" y1="275.68" x2="19.5" y2="280.47" stroke="#2a2a2a" stroke-width="0.7" stroke-dasharray="0.9,0.8"/>
<line x1="19.5" y1="287.43" x2="19.5" y2="292.22" stroke="#2a2a2a" stroke-width="0.7" stroke-dasharray="0.9,0.8"/>
<line x1="28.55" y1="243" x2="28.55" y2="302.5" stroke="#e4e080" stroke-width="1.6" />
<line x1="28.55" y1="245.7" x2="28.55" y2="251.7" stroke="#b0b8e8" stroke-width="1.6" />
<line x1="28.55" y1="269.2" x2="28.55" y2="275.2" stroke="#b0b8e8" stroke-width="1.6" />
<line x1="28.55" y1="292.7" x2="28.55" y2="298.7" stroke="#b0b8e8" stroke-width="1.6" />
<line x1="37.6" y1="243" x2="37.6" y2="302.5" stroke="#b4bce8" stroke-width="1.5" />
<line x1="37.6" y1="244.5" x2="37.6" y2="252.9" stroke="#f0dc30" stroke-width="2.2" />
<line x1="37.6" y1="268" x2="37.6" y2="276.4" stroke="#f0dc30" stroke-width="2.2" />
<line x1="37.6" y1="291.5" x2="37.6" y2="299.9" stroke="#f0dc30" stroke-width="2.2" />
<line x1="37.6" y1="252.17" x2="37.6" y2="256.97" stroke="#2a2a2a" stroke-width="0.7" stroke-dasharray="0.9,0.8"/>
<line x1="37.6" y1="263.93" x2="37.6" y2="268.72" stroke="#2a2a2a" stroke-width="0.7" stroke-dasharray="0.9,0.8"/>
<line x1="37.6" y1="275.68" x2="37.6" y2="280.47" stroke="#2a2a2a" stroke-width="0.7" stroke-dasharray="0.9,0.8"/>
<line x1="37.6" y1="287.43" x2="37.6" y2="292.22" stroke="#2a2a2a" stroke-width="0.7" stroke-dasharray="0.9,0.8"/>
<line x1="46.65" y1="243" x2="46.65" y2="302.5" stroke="#e4e080" stroke-width="1.6" />
<line x1="46.65" y1="245.7" x2="46.65" y2="251.7" stroke="#b0b8e8" stroke-width="1.6" />
<line x1="46.65" y1="269.2" x2="46.65" y2="275.2" stroke="#b0b8e8" stroke-width="1.6" />
<line x1="46.65" y1="292.7" x2="46.65" y2="298.7" stroke="#b0b8e8" stroke-width="1.6" />
<line x1="55.7" y1="243" x2="55.7" y2="302.5" stroke="#b4bce8" stroke-width="1.5" />
<line x1="55.7" y1="244.5" x2="55.7" y2="252.9" stroke="#f0dc30" stroke-width="2.2" />
<line x1="55.7" y1="268" x2="55.7" y2="276.4" stroke="#f0dc30" stroke-width="2.2" />
<line x1="55.7" y1="291.5" x2="55.7" y2="299.9" stroke="#f0dc30" stroke-width="2.2" />
<line x1="55.7" y1="252.17" x2="55.7" y2="256.97" stroke="#2a2a2a" stroke-width="0.7" stroke-dasharray="0.9,0.8"/>
<line x1="55.7" y1="263.93" x2="55.7" y2="268.72" stroke="#2a2a2a" stroke-width="0.7" stroke-dasharray="0.9,0.8"/>
<line x1="55.7" y1="275.68" x2="55.7" y2="280.47" stroke="#2a2a2a" stroke-width="0.7" stroke-dasharray="0.9,0.8"/>
<line x1="55.7" y1="287.43" x2="55.7" y2="292.22" stroke="#2a2a2a" stroke-width="0.7" stroke-dasharray="0.9,0.8"/>
<line x1="14.5" y1="248.7" x2="61" y2="248.7" stroke="#44486a" stroke-width="1.0" />
<line x1="14.5" y1="260.45" x2="61" y2="260.45" stroke="#7a2a38" stroke-width="1.0" />
<line x1="14.5" y1="272.2" x2="61" y2="272.2" stroke="#44486a" stroke-width="1.0" />
<line x1="14.5" y1="283.95" x2="61" y2="283.95" stroke="#7a2a38" stroke-width="1.0" />
<line x1="14.5" y1="295.7" x2="61" y2="295.7" stroke="#44486a" stroke-width="1.0" />
<path d="M16.2,248.7 L19.5,245.9 L22.8,248.7 L19.5,251.5 z" fill="#f4e040"/>
<circle cx="19.5" cy="248.7" r="1.9" fill="#f0d620" stroke="#a89010" stroke-width="0.35" />
<circle cx="28.55" cy="248.7" r="2.1" fill="#a0a8e0" stroke="#5a66a8" stroke-width="0.45" />
<circle cx="28.25" cy="248.4" r="0.9" fill="#f4f6ff" stroke="none" stroke-width="0.3" />
<path d="M34.3,248.7 L37.6,245.9 L40.9,248.7 L37.6,251.5 z" fill="#f4e040"/>
<circle cx="37.6" cy="248.7" r="1.9" fill="#f0d620" stroke="#a89010" stroke-width="0.35" />
<circle cx="46.65" cy="248.7" r="2.1" fill="#a0a8e0" stroke="#5a66a8" stroke-width="0.45" />
<circle cx="46.35" cy="248.4" r="0.9" fill="#f4f6ff" stroke="none" stroke-width="0.3" />
<path d="M52.4,248.7 L55.7,245.9 L59,248.7 L55.7,251.5 z" fill="#f4e040"/>
<circle cx="55.7" cy="248.7" r="1.9" fill="#f0d620" stroke="#a89010" stroke-width="0.35" />
<circle cx="19.5" cy="260.45" r="2.1" fill="#a0a8e0" stroke="#5a66a8" stroke-width="0.45" />
<circle cx="19.2" cy="260.15" r="0.9" fill="#f4f6ff" stroke="none" stroke-width="0.3" />
<circle cx="28.55" cy="260.45" r="2.2" fill="#d45a30" stroke="#8a2a18" stroke-width="0.45" />
<circle cx="28.15" cy="260.05" r="0.8" fill="#f4b090" stroke="none" stroke-width="0.3" />
<circle cx="37.6" cy="260.45" r="2.1" fill="#a0a8e0" stroke="#5a66a8" stroke-width="0.45" />
<circle cx="37.3" cy="260.15" r="0.9" fill="#f4f6ff" stroke="none" stroke-width="0.3" />
<circle cx="46.65" cy="260.45" r="2.2" fill="#d45a30" stroke="#8a2a18" stroke-width="0.45" />
<circle cx="46.25" cy="260.05" r="0.8" fill="#f4b090" stroke="none" stroke-width="0.3" />
<circle cx="55.7" cy="260.45" r="2.1" fill="#a0a8e0" stroke="#5a66a8" stroke-width="0.45" />
<circle cx="55.4" cy="260.15" r="0.9" fill="#f4f6ff" stroke="none" stroke-width="0.3" />
<path d="M16.2,272.2 L19.5,269.4 L22.8,272.2 L19.5,275 z" fill="#f4e040"/>
<circle cx="19.5" cy="272.2" r="1.9" fill="#f0d620" stroke="#a89010" stroke-width="0.35" />
<circle cx="28.55" cy="272.2" r="2.1" fill="#a0a8e0" stroke="#5a66a8" stroke-width="0.45" />
<circle cx="28.25" cy="271.9" r="0.9" fill="#f4f6ff" stroke="none" stroke-width="0.3" />
<path d="M34.3,272.2 L37.6,269.4 L40.9,272.2 L37.6,275 z" fill="#f4e040"/>
<circle cx="37.6" cy="272.2" r="1.9" fill="#f0d620" stroke="#a89010" stroke-width="0.35" />
<circle cx="46.65" cy="272.2" r="2.1" fill="#a0a8e0" stroke="#5a66a8" stroke-width="0.45" />
<circle cx="46.35" cy="271.9" r="0.9" fill="#f4f6ff" stroke="none" stroke-width="0.3" />
<path d="M52.4,272.2 L55.7,269.4 L59,272.2 L55.7,275 z" fill="#f4e040"/>
<circle cx="55.7" cy="272.2" r="1.9" fill="#f0d620" stroke="#a89010" stroke-width="0.35" />
<circle cx="19.5" cy="283.95" r="2.1" fill="#a0a8e0" stroke="#5a66a8" stroke-width="0.45" />
<circle cx="19.2" cy="283.65" r="0.9" fill="#f4f6ff" stroke="none" stroke-width="0.3" />
<circle cx="28.55" cy="283.95" r="2.2" fill="#d45a30" stroke="#8a2a18" stroke-width="0.45" />
<circle cx="28.15" cy="283.55" r="0.8" fill="#f4b090" stroke="none" stroke-width="0.3" />
<circle cx="37.6" cy="283.95" r="2.1" fill="#a0a8e0" stroke="#5a66a8" stroke-width="0.45" />
<circle cx="37.3" cy="283.65" r="0.9" fill="#f4f6ff" stroke="none" stroke-width="0.3" />
<circle cx="46.65" cy="283.95" r="2.2" fill="#d45a30" stroke="#8a2a18" stroke-width="0.45" />
<circle cx="46.25" cy="283.55" r="0.8" fill="#f4b090" stroke="none" stroke-width="0.3" />
<circle cx="55.7" cy="283.95" r="2.1" fill="#a0a8e0" stroke="#5a66a8" stroke-width="0.45" />
<circle cx="55.4" cy="283.65" r="0.9" fill="#f4f6ff" stroke="none" stroke-width="0.3" />
<path d="M16.2,295.7 L19.5,292.9 L22.8,295.7 L19.5,298.5 z" fill="#f4e040"/>
<circle cx="19.5" cy="295.7" r="1.9" fill="#f0d620" stroke="#a89010" stroke-width="0.35" />
<circle cx="28.55" cy="295.7" r="2.1" fill="#a0a8e0" stroke="#5a66a8" stroke-width="0.45" />
<circle cx="28.25" cy="295.4" r="0.9" fill="#f4f6ff" stroke="none" stroke-width="0.3" />
<path d="M34.3,295.7 L37.6,292.9 L40.9,295.7 L37.6,298.5 z" fill="#f4e040"/>
<circle cx="37.6" cy="295.7" r="1.9" fill="#f0d620" stroke="#a89010" stroke-width="0.35" />
<circle cx="46.65" cy="295.7" r="2.1" fill="#a0a8e0" stroke="#5a66a8" stroke-width="0.45" />
<circle cx="46.35" cy="295.4" r="0.9" fill="#f4f6ff" stroke="none" stroke-width="0.3" />
<path d="M52.4,295.7 L55.7,292.9 L59,295.7 L55.7,298.5 z" fill="#f4e040"/>
<circle cx="55.7" cy="295.7" r="1.9" fill="#f0d620" stroke="#a89010" stroke-width="0.35" />
<path d="M10.8,291 L10.8,305.6 L21,305.6" stroke="#333" stroke-width="0.6" fill="none" />
<path d="M10.8,290 l-0.9,1.6 h1.8 z" fill="#333"/>
<path d="M22,305.6 l-1.6,-0.9 v1.8 z" fill="#333"/>
<text x="12.2" y="293.5" font-size="3.8" font-style="italic" fill="#161616" >b</text>
<text x="23.5" y="307.8" font-size="3.8" font-style="italic" fill="#161616" >a</text>
<path d="M63.9,292 L63.9,305 L73,305" stroke="#333" stroke-width="0.6" fill="none" />
<path d="M63.9,291 l-0.9,1.6 h1.8 z" fill="#333"/>
<path d="M74,305 l-1.6,-0.9 v1.8 z" fill="#333"/>
<text x="64.8" y="292.2" font-size="3.8" font-style="italic" fill="#161616" >c</text>
<text x="75.8" y="306.8" font-size="3.8" font-style="italic" fill="#161616" >a</text>
<path d="M78.5,243.8 L71.8,256.2 L78.9,262 Z" fill="#a8a8b0" fill-opacity="0.28" stroke="#909098" stroke-width="0.9"/>
<path d="M87.8,243.8 L94,256.2 L87.8,262 Z" fill="#a8a8b0" fill-opacity="0.28" stroke="#909098" stroke-width="0.9"/>
<line x1="71.8" y1="256.2" x2="78.9" y2="262" stroke="#9080c0" stroke-width="1.0" />
<line x1="94" y1="256.2" x2="87.8" y2="262" stroke="#9080c0" stroke-width="1.0" />
<line x1="78.9" y1="262" x2="87.8" y2="262" stroke="#a090c8" stroke-width="0.9" />
<line x1="78.5" y1="243.8" x2="87.8" y2="262" stroke="#d8d0e4" stroke-width="0.5" />
<line x1="87.8" y1="243.8" x2="78.9" y2="262" stroke="#d8d0e4" stroke-width="0.5" />
<ellipse cx="83.2" cy="254" rx="3.2" ry="2.4" fill="#eef4ea" stroke="#d0d8c8" stroke-width="0.4"/>
<circle cx="78.5" cy="243.8" r="2.3" fill="#d04848" stroke="#903030" stroke-width="0.4" />
<circle cx="78.3" cy="243.4" r="0.9" fill="#f0a8b0" stroke="none" stroke-width="0.3" />
<circle cx="87.8" cy="243.8" r="2.3" fill="#d04848" stroke="#903030" stroke-width="0.4" />
<circle cx="87.6" cy="243.4" r="0.9" fill="#f0a8b0" stroke="none" stroke-width="0.3" />
<circle cx="71.8" cy="256.2" r="2" fill="#f0e030" stroke="#c8b820" stroke-width="0.3" />
<circle cx="94" cy="256.2" r="2" fill="#f0e030" stroke="#c8b820" stroke-width="0.3" />
<circle cx="78.9" cy="262" r="2" fill="#f0e030" stroke="#c8b820" stroke-width="0.3" />
<circle cx="87.8" cy="262" r="2" fill="#f0e030" stroke="#c8b820" stroke-width="0.3" />
<line x1="75.3" y1="273.2" x2="93.2" y2="289.4" stroke="#8a7898" stroke-width="0.9" />
<line x1="94.1" y1="273.2" x2="75.3" y2="289.4" stroke="#8a7898" stroke-width="0.9" />
<line x1="75.3" y1="289.4" x2="75.3" y2="293.3" stroke="#c0c060" stroke-width="1.0" />
<line x1="93.2" y1="289.4" x2="93.5" y2="293.3" stroke="#c0c060" stroke-width="1.0" />
<line x1="84" y1="284.9" x2="75.3" y2="289.6" stroke="#e4cc40" stroke-width="1.6" />
<line x1="84" y1="284.9" x2="93.2" y2="289.6" stroke="#e4cc40" stroke-width="1.6" />
<line x1="75.3" y1="293.3" x2="84" y2="303" stroke="#d07080" stroke-width="0.8" />
<line x1="93.5" y1="293.3" x2="84" y2="303" stroke="#d07080" stroke-width="0.8" />
<path d="M77,294.5 Q84,290 92,294.5" fill="none" stroke="#90b0e0" stroke-width="0.6" stroke-dasharray="0.8,0.6"/>
<circle cx="75.3" cy="273.2" r="2.3" fill="#d04848" stroke="#903030" stroke-width="0.4" />
<circle cx="75.1" cy="272.8" r="0.9" fill="#f0a8b0" stroke="none" stroke-width="0.3" />
<circle cx="94.1" cy="273.2" r="2.3" fill="#d04848" stroke="#903030" stroke-width="0.4" />
<circle cx="93.9" cy="272.8" r="0.9" fill="#f0a8b0" stroke="none" stroke-width="0.3" />
<circle cx="84" cy="303" r="2.3" fill="#d04848" stroke="#903030" stroke-width="0.4" />
<circle cx="83.8" cy="302.6" r="0.9" fill="#f0a8b0" stroke="none" stroke-width="0.3" />
<circle cx="84" cy="284.9" r="2.4" fill="#e8e030" stroke="#b0a820" stroke-width="0.3" />
<circle cx="75.3" cy="289.6" r="2" fill="#e4dc50" stroke="#b8b030" stroke-width="0.3" />
<circle cx="93.2" cy="289.6" r="2" fill="#e4dc50" stroke="#b8b030" stroke-width="0.3" />
<circle cx="75.3" cy="293.3" r="2.1" fill="#8890d0" stroke="#505aa0" stroke-width="0.4" />
<circle cx="75" cy="292.9" r="0.9" fill="#e8ecff" stroke="none" stroke-width="0.3" />
<circle cx="93.5" cy="293.3" r="2.1" fill="#8890d0" stroke="#505aa0" stroke-width="0.4" />
<circle cx="93.2" cy="292.9" r="0.9" fill="#e8ecff" stroke="none" stroke-width="0.3" />
<text x="84" y="278" font-size="3.4" text-anchor="middle" font-weight="bold" fill="#222" >Cr3</text>
<text x="75.5" y="284.6" font-size="3.4" text-anchor="middle" font-weight="bold" fill="#222" transform="rotate(-40 75.5 283.5)">S'</text>
<text x="93.3" y="284.6" font-size="3.4" text-anchor="middle" font-weight="bold" fill="#222" transform="rotate(40 93.3 283.5)">S'</text>
<text x="69.1" y="298.4" font-size="3.4" text-anchor="middle" font-weight="bold" fill="#222" >Cr1</text>
<text x="99.2" y="298.4" font-size="3.4" text-anchor="middle" font-weight="bold" fill="#222" >Cr2</text>
<text x="84.2" y="294" font-size="3.6" text-anchor="middle" font-weight="bold" fill="#222" >θ<tspan font-size="2.4" dy="0.6">1</tspan></text>
<text x="91.4" y="305" font-size="3.6" text-anchor="middle" font-weight="bold" fill="#222" >θ<tspan font-size="2.4" dy="0.6">2</tspan></text>
<rect x="117.4" y="238.5" width="85.55" height="61.9" stroke="#444" stroke-width="0.7" fill="none" />
<line x1="117.4" y1="300.4" x2="117.4" y2="299.2" stroke="#555" stroke-width="0.4" />
<text x="117.4" y="304" font-size="3.6" text-anchor="middle" fill="#222" >0</text>
<line x1="145.92" y1="300.4" x2="145.92" y2="299.2" stroke="#555" stroke-width="0.4" />
<text x="145.92" y="304" font-size="3.6" text-anchor="middle" fill="#222" >100</text>
<line x1="174.44" y1="300.4" x2="174.44" y2="299.2" stroke="#555" stroke-width="0.4" />
<text x="174.44" y="304" font-size="3.6" text-anchor="middle" fill="#222" >200</text>
<line x1="202.96" y1="300.4" x2="202.96" y2="299.2" stroke="#555" stroke-width="0.4" />
<text x="202.96" y="304" font-size="3.6" text-anchor="middle" fill="#222" >300</text>
<line x1="117.4" y1="295" x2="118.6" y2="295" stroke="#555" stroke-width="0.4" />
<text x="116.2" y="296.9" font-size="3.6" text-anchor="end" fill="#222" >0.0</text>
<line x1="117.4" y1="286.17" x2="118.6" y2="286.17" stroke="#555" stroke-width="0.4" />
<text x="116.2" y="288.06" font-size="3.6" text-anchor="end" fill="#222" >0.5</text>
<line x1="117.4" y1="277.33" x2="118.6" y2="277.33" stroke="#555" stroke-width="0.4" />
<text x="116.2" y="279.23" font-size="3.6" text-anchor="end" fill="#222" >1.0</text>
<line x1="117.4" y1="268.5" x2="118.6" y2="268.5" stroke="#555" stroke-width="0.4" />
<text x="116.2" y="270.39" font-size="3.6" text-anchor="end" fill="#222" >1.5</text>
<line x1="117.4" y1="259.66" x2="118.6" y2="259.66" stroke="#555" stroke-width="0.4" />
<text x="116.2" y="261.56" font-size="3.6" text-anchor="end" fill="#222" >2.0</text>
<line x1="117.4" y1="250.82" x2="118.6" y2="250.82" stroke="#555" stroke-width="0.4" />
<text x="116.2" y="252.72" font-size="3.6" text-anchor="end" fill="#222" >2.5</text>
<line x1="117.4" y1="241.99" x2="118.6" y2="241.99" stroke="#555" stroke-width="0.4" />
<text x="116.2" y="243.89" font-size="3.6" text-anchor="end" fill="#222" >3.0</text>
<text x="160" y="310.3" font-size="5" text-anchor="middle" font-weight="bold" fill="#222" textLength="35.5" lengthAdjust="spacingAndGlyphs" >Temperature (K)</text>
<text x="108.9" y="267.6" font-size="4.0" text-anchor="middle" font-weight="bold" fill="#222" textLength="41" lengthAdjust="spacingAndGlyphs" transform="rotate(-90 108.9 267.6)">Magnetic moment (μ<tspan font-size="2.8" dy="0.6">B</tspan><tspan dy="-0.6">)</tspan></text>
<text x="102.6" y="238.6" font-size="7.8" font-weight="bold" fill="#111" >F</text>
<line x1="160" y1="240.2" x2="160" y2="300.2" stroke="#e04848" stroke-width="0.8" stroke-dasharray="0.9,1.3"/>
<line x1="163" y1="240.2" x2="163" y2="300.2" stroke="#4060d0" stroke-width="0.8" stroke-dasharray="0.9,1.3"/>
<line x1="166" y1="240.2" x2="166" y2="300.2" stroke="#30a040" stroke-width="0.8" stroke-dasharray="0.9,1.3"/>
<path d="M120,243.5 C121.67,244.38 126.67,246.95 130,248.8 C133.33,250.65 137,252.57 140,254.6 C143,256.63 145.87,259.13 148,261 C150.13,262.87 151.4,264.09 152.8,265.8 C154.2,267.51 155.3,269.33 156.4,271.25 C157.5,273.17 158.59,275.29 159.4,277.3 C160.21,279.31 160.73,281.7 161.25,283.3 C161.77,284.9 161.89,285.9 162.5,286.9 C163.11,287.9 163.7,288.6 164.9,289.3 C166.1,290 167.18,290.52 169.7,291.1 C172.22,291.68 174.62,292.27 180,292.8 C185.38,293.33 198.33,294.05 202,294.3" stroke="#e83838" stroke-width="1.1" fill="none" />
<path d="M120,243.3 C121.67,244.15 126.67,246.65 130,248.4 C133.33,250.15 137,251.93 140,253.8 C143,255.67 145.87,258 148,259.6 C150.13,261.2 151.2,262.17 152.8,263.4 C154.4,264.63 156.19,265.48 157.6,267 C159.01,268.52 160.23,270.58 161.25,272.5 C162.27,274.42 162.91,276.5 163.7,278.5 C164.49,280.5 165.12,282.9 166,284.5 C166.88,286.1 167.78,287.1 169,288.1 C170.22,289.1 171.47,289.75 173.3,290.5 C175.13,291.25 175.22,292.02 180,292.6 C184.78,293.18 198.33,293.77 202,294" stroke="#20a040" stroke-width="1.1" fill="none" />
<path d="M120,243.4 C121.67,244.27 126.67,246.8 130,248.6 C133.33,250.4 137,252.25 140,254.2 C143,256.15 145.87,258.57 148,260.3 C150.13,262.03 151.3,263.13 152.8,264.6 C154.3,266.07 155.75,267.41 157,269.12 C158.25,270.84 159.41,272.94 160.32,274.9 C161.24,276.86 161.82,279.1 162.47,280.9 C163.13,282.7 163.5,284.4 164.25,285.7 C165,287 165.74,287.85 166.95,288.7 C168.16,289.55 169.32,290.13 171.5,290.8 C173.68,291.47 174.92,292.14 180,292.7 C185.08,293.26 198.33,293.91 202,294.15" stroke="#283068" stroke-width="0.9" fill="none" stroke-dasharray="1.2,0.8"/>
<text x="168.5" y="250.7" font-size="3.4" fill="#d82828" textLength="24" lengthAdjust="spacingAndGlyphs" >T<tspan font-size="2.6" dy="0.5">C(CrI3)</tspan><tspan dy="-0.5"> = 150 K</tspan></text>
<text x="168.5" y="256.2" font-size="3.4" fill="#2838a8" textLength="24" lengthAdjust="spacingAndGlyphs" >T<tspan font-size="2.6" dy="0.5">C(CrBr3)</tspan><tspan dy="-0.5"> = 160 K</tspan></text>
<text x="168.5" y="261.6" font-size="3.4" fill="#189030" textLength="22.5" lengthAdjust="spacingAndGlyphs" >T<tspan font-size="2.6" dy="0.5">C(Cr3)</tspan><tspan dy="-0.5"> = 170 K</tspan></text>
<text x="206" y="238.6" font-size="7.8" font-weight="bold" fill="#111" >G</text>
<defs><linearGradient id="cb" x1="0" y1="0" x2="0" y2="1"><stop offset="0" stop-color="#c8c8c8"/><stop offset="0.08" stop-color="#e8e4c8"/><stop offset="0.22" stop-color="#f0dc90"/><stop offset="0.38" stop-color="#e8b848"/><stop offset="0.52" stop-color="#e08828"/><stop offset="0.66" stop-color="#c04818"/><stop offset="0.8" stop-color="#801810"/><stop offset="0.92" stop-color="#300808"/><stop offset="1" stop-color="#080000"/></linearGradient><clipPath id="gc"><rect x="216.2" y="237.2" width="67.8" height="67.3"/></clipPath></defs>
<rect x="216.2" y="237.2" width="67.8" height="67.3" fill="#060000"/>
<g clip-path="url(#gc)">
<path d="M238,237.2 L266.5,237.2 L258,267 L256.5,263 L255,256 L253.5,250 L251,246 L247,243.5 L242,242.5 L241.5,243.5 L235.9,243.5 Z" fill="#fadc6a"/>
<path d="M250,237.2 L266.5,237.2 L262,252 L257,246 L252,242 Z" fill="#fce68a"/>
<path d="M241.5,243.5 L242,242.5 L247,243.5 L251,246 L253.5,250 L255,256 L256.5,263 L258,267 L257,270 L255.5,273 L253.5,270 L252,266 L249,263 L244,259 L240.5,254.5 Z" fill="#f09a22"/>
<path d="M243,245 L248,246 L251,251 L250,256 L246,255 L243,250 Z" fill="#f4a830"/>
<path d="M266.5,237.2 L271,237.2 L264.5,262 L262.5,274 L259,274 L257.5,270 L258,267 Z" fill="#e2481a"/>
<path d="M269,237.2 L271.5,237.2 L265.5,262 L263,274 L261.2,274 L264.5,258 Z" fill="#c81c12"/>
<path d="M235.9,243.5 L241.5,243.5 L240.5,254.5 L244,259 L249,263 L252,266 L253.5,270 L255.5,273 L252,277 L247,280 L243,280 L239,290 L234.5,302 L231,290 L228,286 L222.5,280 L226,272 L228,267 Z" fill="#b80c0c"/>
<path d="M245,266 L252,266 L253.5,270 L255.5,273 L252,277 L247.5,279 L246,274 Z" fill="#c41214"/>
<path d="M247.5,272 L249,276 L241,292 L239.5,290 Z" fill="#4a0404"/>
<ellipse cx="259.5" cy="280.5" rx="3.2" ry="6.5" transform="rotate(-8 259.5 280.5)" fill="#c01012"/>
<line x1="278" y1="242" x2="273.5" y2="253" stroke="#8a6a44" stroke-width="0.6" />
<line x1="276" y1="288" x2="272.5" y2="298" stroke="#6a3020" stroke-width="0.6" />
<line x1="244.5" y1="289" x2="243" y2="300" stroke="#5a1010" stroke-width="0.5" />
<line x1="255" y1="273" x2="255" y2="287" stroke="#909090" stroke-width="0.6" />
<circle cx="255" cy="287.5" r="1.2" fill="#9a9a9a" stroke="none" stroke-width="0.3" />
<line x1="248" y1="287" x2="254" y2="280.5" stroke="#e0e070" stroke-width="0.8" />
<line x1="247.5" y1="287.2" x2="251.5" y2="287.2" stroke="#e0e070" stroke-width="0.6" />
<path d="M268.5,285 L276.5,287.5 L280.6,276" stroke="#e0e0e0" stroke-width="0.6" fill="none" />
<circle cx="268.5" cy="285" r="1" fill="#f0f0f0" stroke="none" stroke-width="0.3" />
<circle cx="281" cy="275.5" r="1" fill="#d8d8d8" stroke="none" stroke-width="0.3" />
<text x="269.5" y="281.8" font-size="3.6" text-anchor="middle" font-weight="bold" fill="#ddd" >b</text>
<text x="282.5" y="276.2" font-size="3.6" text-anchor="middle" font-weight="bold" fill="#ddd" >a</text>
<text x="275.5" y="300.8" font-size="3.8" text-anchor="middle" font-weight="bold" fill="#e8e8e8" textLength="11" lengthAdjust="spacingAndGlyphs" >2 μm</text>
<line x1="269" y1="302.4" x2="281" y2="302.4" stroke="#e8e8e8" stroke-width="0.8" />
<text x="255" y="244.4" font-size="3.6" text-anchor="middle" font-weight="bold" fill="#302010" >7</text>
<text x="246.25" y="253.3" font-size="3.6" text-anchor="middle" font-weight="bold" fill="#502000" >5</text>
<text x="249.5" y="260" font-size="3.6" text-anchor="middle" font-weight="bold" fill="#ffe8c0" >4</text>
<text x="263" y="257.5" font-size="3.6" text-anchor="middle" font-weight="bold" fill="#ffd8c0" >3</text>
<text x="258.75" y="265" font-size="3.6" text-anchor="middle" font-weight="bold" fill="#ffd8c0" >4</text>
<text x="236.25" y="270.3" font-size="3.6" text-anchor="middle" font-weight="bold" fill="#ffe0e0" >2</text>
<text x="249.5" y="271" font-size="3.6" text-anchor="middle" font-weight="bold" fill="#ffe0e0" >1</text>
<text x="258.75" y="277.5" font-size="3.6" text-anchor="middle" font-weight="bold" fill="#ffe0e0" >2</text>
<text x="262" y="281.5" font-size="3.6" text-anchor="middle" font-weight="bold" fill="#ffe0e0" >1</text>
<text x="255.5" y="291.3" font-size="3.6" text-anchor="middle" font-weight="bold" fill="#e0e0e0" >6</text>
<text x="230" y="256.2" font-size="3.6" text-anchor="middle" font-weight="bold" fill="#c8a0a0" >1</text>
</g>
<rect x="285.8" y="236.4" width="2.4" height="69" fill="url(#cb)"/>
<text x="291.7" y="238.6" font-size="4.6" text-anchor="middle" fill="#555" >9</text>
<text x="291.7" y="253.6" font-size="4.6" text-anchor="middle" fill="#555" >7</text>
<text x="291.7" y="261" font-size="4.6" text-anchor="middle" fill="#555" >6</text>
<text x="291.7" y="268.6" font-size="4.6" text-anchor="middle" fill="#555" >5</text>
<text x="291.7" y="276.1" font-size="4.6" text-anchor="middle" fill="#555" >4</text>
<text x="291.7" y="283.9" font-size="4.6" text-anchor="middle" fill="#555" >3</text>
<text x="291.7" y="291.6" font-size="4.6" text-anchor="middle" fill="#555" >2</text>
<text x="291.7" y="299.1" font-size="4.6" text-anchor="middle" fill="#555" >1</text>
<text x="291.7" y="306.6" font-size="4.6" text-anchor="middle" fill="#555" >0</text>
<text x="291.8" y="243.2" font-size="3.4" text-anchor="middle" fill="#555" >nm</text>
<rect x="313.6" y="234.4" width="84.5" height="67.2" stroke="#444" stroke-width="0.7" fill="none" />
<line x1="313.6" y1="301.6" x2="313.6" y2="300.4" stroke="#555" stroke-width="0.4" />
<line x1="313.6" y1="234.4" x2="313.6" y2="235.6" stroke="#555" stroke-width="0.4" />
<text x="313.6" y="307.7" font-size="4.6" text-anchor="middle" fill="#161616" textLength="4.1" lengthAdjust="spacingAndGlyphs" >60</text>
<line x1="323.6" y1="301.6" x2="323.6" y2="300.4" stroke="#555" stroke-width="0.4" />
<line x1="323.6" y1="234.4" x2="323.6" y2="235.6" stroke="#555" stroke-width="0.4" />
<text x="323.6" y="307.7" font-size="4.6" text-anchor="middle" fill="#161616" textLength="4.1" lengthAdjust="spacingAndGlyphs" >80</text>
<line x1="333.6" y1="301.6" x2="333.6" y2="300.4" stroke="#555" stroke-width="0.4" />
<line x1="333.6" y1="234.4" x2="333.6" y2="235.6" stroke="#555" stroke-width="0.4" />
<text x="333.6" y="307.7" font-size="4.6" text-anchor="middle" fill="#161616" textLength="6.15" lengthAdjust="spacingAndGlyphs" >100</text>
<line x1="343.6" y1="301.6" x2="343.6" y2="300.4" stroke="#555" stroke-width="0.4" />
<line x1="343.6" y1="234.4" x2="343.6" y2="235.6" stroke="#555" stroke-width="0.4" />
<text x="343.6" y="307.7" font-size="4.6" text-anchor="middle" fill="#161616" textLength="6.15" lengthAdjust="spacingAndGlyphs" >120</text>
<line x1="353.6" y1="301.6" x2="353.6" y2="300.4" stroke="#555" stroke-width="0.4" />
<line x1="353.6" y1="234.4" x2="353.6" y2="235.6" stroke="#555" stroke-width="0.4" />
<text x="353.6" y="307.7" font-size="4.6" text-anchor="middle" fill="#161616" textLength="6.15" lengthAdjust="spacingAndGlyphs" >140</text>
<line x1="363.6" y1="301.6" x2="363.6" y2="300.4" stroke="#555" stroke-width="0.4" />
<line x1="363.6" y1="234.4" x2="363.6" y2="235.6" stroke="#555" stroke-width="0.4" />
<text x="363.6" y="307.7" font-size="4.6" text-anchor="middle" fill="#161616" textLength="6.15" lengthAdjust="spacingAndGlyphs" >160</text>
<line x1="373.6" y1="301.6" x2="373.6" y2="300.4" stroke="#555" stroke-width="0.4" />
<line x1="373.6" y1="234.4" x2="373.6" y2="235.6" stroke="#555" stroke-width="0.4" />
<text x="373.6" y="307.7" font-size="4.6" text-anchor="middle" fill="#161616" textLength="6.15" lengthAdjust="spacingAndGlyphs" >180</text>
<line x1="383.6" y1="301.6" x2="383.6" y2="300.4" stroke="#555" stroke-width="0.4" />
<line x1="383.6" y1="234.4" x2="383.6" y2="235.6" stroke="#555" stroke-width="0.4" />
<text x="383.6" y="307.7" font-size="4.6" text-anchor="middle" fill="#161616" textLength="6.15" lengthAdjust="spacingAndGlyphs" >200</text>
<line x1="393.6" y1="301.6" x2="393.6" y2="300.4" stroke="#555" stroke-width="0.4" />
<line x1="393.6" y1="234.4" x2="393.6" y2="235.6" stroke="#555" stroke-width="0.4" />
<text x="393.6" y="307.7" font-size="4.6" text-anchor="middle" fill="#161616" textLength="6.15" lengthAdjust="spacingAndGlyphs" >220</text>
<line x1="313.6" y1="299.4" x2="314.8" y2="299.4" stroke="#555" stroke-width="0.4" />
<line x1="398.1" y1="299.4" x2="396.9" y2="299.4" stroke="#555" stroke-width="0.4" />
<text x="312" y="301.3" font-size="5.2" text-anchor="end" fill="#111" >4</text>
<line x1="313.6" y1="288.18" x2="314.8" y2="288.18" stroke="#555" stroke-width="0.4" />
<line x1="398.1" y1="288.18" x2="396.9" y2="288.18" stroke="#555" stroke-width="0.4" />
<text x="312" y="290.08" font-size="5.2" text-anchor="end" fill="#111" >6</text>
<line x1="313.6" y1="276.96" x2="314.8" y2="276.96" stroke="#555" stroke-width="0.4" />
<line x1="398.1" y1="276.96" x2="396.9" y2="276.96" stroke="#555" stroke-width="0.4" />
<text x="312" y="278.86" font-size="5.2" text-anchor="end" fill="#111" >8</text>
<line x1="313.6" y1="265.74" x2="314.8" y2="265.74" stroke="#555" stroke-width="0.4" />
<line x1="398.1" y1="265.74" x2="396.9" y2="265.74" stroke="#555" stroke-width="0.4" />
<text x="312" y="267.64" font-size="5.2" text-anchor="end" fill="#111" >10</text>
<line x1="313.6" y1="254.52" x2="314.8" y2="254.52" stroke="#555" stroke-width="0.4" />
<line x1="398.1" y1="254.52" x2="396.9" y2="254.52" stroke="#555" stroke-width="0.4" />
<text x="312" y="256.42" font-size="5.2" text-anchor="end" fill="#111" >12</text>
<line x1="313.6" y1="243.3" x2="314.8" y2="243.3" stroke="#555" stroke-width="0.4" />
<line x1="398.1" y1="243.3" x2="396.9" y2="243.3" stroke="#555" stroke-width="0.4" />
<text x="312" y="245.2" font-size="5.2" text-anchor="end" fill="#111" >14</text>
<text x="302.5" y="238.6" font-size="7.8" font-weight="bold" fill="#111" >H</text>
<text x="356.5" y="314" font-size="4.8" text-anchor="middle" fill="#161616" textLength="30" lengthAdjust="spacingAndGlyphs" >Temperature (K)</text>
<text x="304" y="264.3" font-size="4.2" text-anchor="middle" fill="#444" textLength="33.4" lengthAdjust="spacingAndGlyphs" transform="rotate(-90 304.0 264.3)">SHG intensity<tspan font-size="2.8" dy="-1.6">1/2</tspan><tspan dy="1.6"> (a.u.)</tspan></text>
<path d="M313.6,251.61 L313.85,251.71 L314.1,251.8 L314.35,251.89 L314.6,251.99 L314.85,252.08 L315.1,252.18 L315.35,252.27 L315.6,252.37 L315.85,252.46 L316.1,252.56 L316.35,252.65 L316.6,252.75 L316.85,252.85 L317.1,252.94 L317.35,253.04 L317.6,253.14 L317.85,253.24 L318.1,253.34 L318.35,253.44 L318.6,253.54 L318.85,253.64 L319.1,253.74 L319.35,253.84 L319.6,253.94 L319.85,254.04 L320.1,254.14 L320.35,254.25 L320.6,254.35 L320.85,254.45 L321.1,254.56 L321.35,254.66 L321.6,254.77 L321.85,254.87 L322.1,254.98 L322.35,255.08 L322.6,255.19 L322.85,255.3 L323.1,255.41 L323.35,255.51 L323.6,255.62 L323.85,255.73 L324.1,255.84 L324.35,255.95 L324.6,256.06 L324.85,256.18 L325.1,256.29 L325.35,256.4 L325.6,256.51 L325.85,256.63 L326.1,256.74 L326.35,256.86 L326.6,256.97 L326.85,257.09 L327.1,257.2 L327.35,257.32 L327.6,257.44 L327.85,257.56 L328.1,257.68 L328.35,257.8 L328.6,257.92 L328.85,258.04 L329.1,258.16 L329.35,258.28 L329.6,258.41 L329.85,258.53 L330.1,258.66 L330.35,258.78 L330.6,258.91 L330.85,259.03 L331.1,259.16 L331.35,259.29 L331.6,259.42 L331.85,259.55 L332.1,259.68 L332.35,259.81 L332.6,259.95 L332.85,260.08 L333.1,260.21 L333.35,260.35 L333.6,260.48 L333.85,260.62 L334.1,260.76 L334.35,260.9 L334.6,261.04 L334.85,261.18 L335.1,261.32 L335.35,261.47 L335.6,261.61 L335.85,261.75 L336.1,261.9 L336.35,262.05 L336.6,262.2 L336.85,262.35 L337.1,262.5 L337.35,262.65 L337.6,262.8 L337.85,262.96 L338.1,263.11 L338.35,263.27 L338.6,263.43 L338.85,263.59 L339.1,263.75 L339.35,263.91 L339.6,264.08 L339.85,264.24 L340.1,264.41 L340.35,264.58 L340.6,264.75 L340.85,264.92 L341.1,265.1 L341.35,265.27 L341.6,265.45 L341.85,265.63 L342.1,265.81 L342.35,265.99 L342.6,266.18 L342.85,266.37 L343.1,266.55 L343.35,266.75 L343.6,266.94 L343.85,267.14 L344.1,267.34 L344.35,267.54 L344.6,267.74 L344.85,267.95 L345.1,268.16 L345.35,268.37 L345.6,268.58 L345.85,268.8 L346.1,269.02 L346.35,269.25 L346.6,269.48 L346.85,269.71 L347.1,269.94 L347.35,270.18 L347.6,270.43 L347.85,270.68 L348.1,270.93 L348.35,271.18 L348.6,271.45 L348.85,271.71 L349.1,271.99 L349.35,272.27 L349.6,272.55 L349.85,272.84 L350.1,273.14 L350.35,273.44 L350.6,273.76 L350.85,274.08 L351.1,274.41 L351.35,274.75 L351.6,275.1 L351.85,275.46 L352.1,275.84 L352.35,276.22 L352.6,276.63 L352.85,277.04 L353.1,277.48 L353.35,277.94 L353.6,278.42 L353.85,278.93 L354.1,279.46 L354.35,280.04 L354.6,280.65 L354.85,281.32 L355.1,282.06 L355.35,282.88 L355.6,283.82 L355.85,284.95 L356.1,286.39 L356.35,288.6 L356.5,293.51 L356.5,293.51 L398.1,293.51" stroke="#f07060" stroke-width="1.2" fill="none" />
<path d="M313.6,247.13 L313.85,247.2 L314.1,247.27 L314.35,247.34 L314.6,247.41 L314.85,247.48 L315.1,247.55 L315.35,247.62 L315.6,247.69 L315.85,247.76 L316.1,247.84 L316.35,247.91 L316.6,247.98 L316.85,248.05 L317.1,248.12 L317.35,248.2 L317.6,248.27 L317.85,248.34 L318.1,248.41 L318.35,248.49 L318.6,248.56 L318.85,248.64 L319.1,248.71 L319.35,248.79 L319.6,248.86 L319.85,248.94 L320.1,249.01 L320.35,249.09 L320.6,249.17 L320.85,249.24 L321.1,249.32 L321.35,249.4 L321.6,249.48 L321.85,249.56 L322.1,249.63 L322.35,249.71 L322.6,249.79 L322.85,249.87 L323.1,249.95 L323.35,250.03 L323.6,250.11 L323.85,250.19 L324.1,250.28 L324.35,250.36 L324.6,250.44 L324.85,250.52 L325.1,250.61 L325.35,250.69 L325.6,250.78 L325.85,250.86 L326.1,250.94 L326.35,251.03 L326.6,251.12 L326.85,251.2 L327.1,251.29 L327.35,251.38 L327.6,251.46 L327.85,251.55 L328.1,251.64 L328.35,251.73 L328.6,251.82 L328.85,251.91 L329.1,252 L329.35,252.09 L329.6,252.18 L329.85,252.28 L330.1,252.37 L330.35,252.46 L330.6,252.56 L330.85,252.65 L331.1,252.74 L331.35,252.84 L331.6,252.94 L331.85,253.03 L332.1,253.13 L332.35,253.23 L332.6,253.33 L332.85,253.43 L333.1,253.53 L333.35,253.63 L333.6,253.73 L333.85,253.83 L334.1,253.93 L334.35,254.04 L334.6,254.14 L334.85,254.25 L335.1,254.35 L335.35,254.46 L335.6,254.57 L335.85,254.67 L336.1,254.78 L336.35,254.89 L336.6,255 L336.85,255.11 L337.1,255.23 L337.35,255.34 L337.6,255.45 L337.85,255.57 L338.1,255.68 L338.35,255.8 L338.6,255.92 L338.85,256.04 L339.1,256.16 L339.35,256.28 L339.6,256.4 L339.85,256.53 L340.1,256.65 L340.35,256.78 L340.6,256.9 L340.85,257.03 L341.1,257.16 L341.35,257.29 L341.6,257.42 L341.85,257.56 L342.1,257.69 L342.35,257.83 L342.6,257.97 L342.85,258.11 L343.1,258.25 L343.35,258.39 L343.6,258.54 L343.85,258.68 L344.1,258.83 L344.35,258.98 L344.6,259.13 L344.85,259.29 L345.1,259.44 L345.35,259.6 L345.6,259.76 L345.85,259.92 L346.1,260.09 L346.35,260.26 L346.6,260.43 L346.85,260.6 L347.1,260.77 L347.35,260.95 L347.6,261.13 L347.85,261.32 L348.1,261.51 L348.35,261.7 L348.6,261.89 L348.85,262.09 L349.1,262.3 L349.35,262.51 L349.6,262.72 L349.85,262.94 L350.1,263.16 L350.35,263.39 L350.6,263.62 L350.85,263.86 L351.1,264.11 L351.35,264.36 L351.6,264.62 L351.85,264.89 L352.1,265.17 L352.35,265.46 L352.6,265.76 L352.85,266.08 L353.1,266.4 L353.35,266.74 L353.6,267.1 L353.85,267.48 L354.1,267.89 L354.35,268.31 L354.6,268.78 L354.85,269.28 L355.1,269.83 L355.35,270.45 L355.6,271.15 L355.85,272 L356.1,273.08 L356.35,274.74 L356.5,278.47 L356.5,278.47 L398.1,278.47" stroke="#3a4cd8" stroke-width="1.2" fill="none" />
<circle cx="325.5" cy="241.6" r="0.85" fill="#4858d8" stroke="none" stroke-width="0.3" />
<circle cx="323" cy="244.75" r="0.85" fill="#4858d8" stroke="none" stroke-width="0.3" />
<circle cx="330.5" cy="246.6" r="0.85" fill="#4858d8" stroke="none" stroke-width="0.3" />
<circle cx="335.5" cy="252.9" r="0.85" fill="#4858d8" stroke="none" stroke-width="0.3" />
<circle cx="331" cy="251" r="0.85" fill="#4858d8" stroke="none" stroke-width="0.3" />
<circle cx="353.6" cy="260.4" r="0.85" fill="#4858d8" stroke="none" stroke-width="0.3" />
<circle cx="350.5" cy="266.6" r="0.85" fill="#4858d8" stroke="none" stroke-width="0.3" />
<circle cx="341" cy="269" r="0.85" fill="#4858d8" stroke="none" stroke-width="0.3" />
<circle cx="346" cy="272.9" r="0.85" fill="#4858d8" stroke="none" stroke-width="0.3" />
<circle cx="338.6" cy="271.6" r="0.85" fill="#4858d8" stroke="none" stroke-width="0.3" />
<circle cx="359" cy="278" r="0.85" fill="#4858d8" stroke="none" stroke-width="0.3" />
<circle cx="363" cy="278.5" r="0.85" fill="#4858d8" stroke="none" stroke-width="0.3" />
<circle cx="370" cy="278" r="0.85" fill="#4858d8" stroke="none" stroke-width="0.3" />
<circle cx="383" cy="277" r="0.85" fill="#4858d8" stroke="none" stroke-width="0.3" />
<circle cx="393" cy="278" r="0.85" fill="#4858d8" stroke="none" stroke-width="0.3" />
<circle cx="315" cy="246.5" r="0.85" fill="#4858d8" stroke="none" stroke-width="0.3" />
<circle cx="357.5" cy="276" r="0.85" fill="#4858d8" stroke="none" stroke-width="0.3" />
<circle cx="323" cy="258.25" r="0.85" fill="#f06858" stroke="none" stroke-width="0.3" />
<circle cx="328.6" cy="254.5" r="0.85" fill="#f06858" stroke="none" stroke-width="0.3" />
<circle cx="333.6" cy="259" r="0.85" fill="#f06858" stroke="none" stroke-width="0.3" />
<circle cx="333.6" cy="270.4" r="0.85" fill="#f06858" stroke="none" stroke-width="0.3" />
<circle cx="343.6" cy="269" r="0.85" fill="#f06858" stroke="none" stroke-width="0.3" />
<circle cx="345" cy="276" r="0.85" fill="#f06858" stroke="none" stroke-width="0.3" />
<circle cx="337" cy="278" r="0.85" fill="#f06858" stroke="none" stroke-width="0.3" />
<circle cx="340" cy="282" r="0.85" fill="#f06858" stroke="none" stroke-width="0.3" />
<circle cx="352" cy="282" r="0.85" fill="#f06858" stroke="none" stroke-width="0.3" />
<circle cx="349" cy="280" r="0.85" fill="#f06858" stroke="none" stroke-width="0.3" />
<circle cx="360" cy="293" r="0.85" fill="#f06858" stroke="none" stroke-width="0.3" />
<circle cx="370" cy="294" r="0.85" fill="#f06858" stroke="none" stroke-width="0.3" />
<circle cx="385" cy="293" r="0.85" fill="#f06858" stroke="none" stroke-width="0.3" />
<circle cx="393" cy="294" r="0.85" fill="#f06858" stroke="none" stroke-width="0.3" />
<circle cx="356" cy="294.5" r="0.85" fill="#f06858" stroke="none" stroke-width="0.3" />
<circle cx="358" cy="293.5" r="0.85" fill="#f06858" stroke="none" stroke-width="0.3" />
<line x1="349.9" y1="240.3" x2="358.6" y2="240.3" stroke="#3a4cd8" stroke-width="0.95" />
<line x1="349.9" y1="245.75" x2="358.6" y2="245.75" stroke="#f07060" stroke-width="0.95" />
<text x="361.9" y="242.1" font-size="5.2" fill="#111" textLength="33" lengthAdjust="spacingAndGlyphs" >Parallel Polarized</text>
<text x="361.9" y="247.5" font-size="5.2" fill="#111" textLength="30" lengthAdjust="spacingAndGlyphs" >Cross Polarized</text>
<text x="316.8" y="294.4" font-size="5.2" fill="#111" textLength="34" lengthAdjust="spacingAndGlyphs" >T<tspan font-size="3.4" dy="0.9">C</tspan><tspan dy="-0.9"> = 145.8 ± 1.8 K</tspan></text>
</svg></body></html>
